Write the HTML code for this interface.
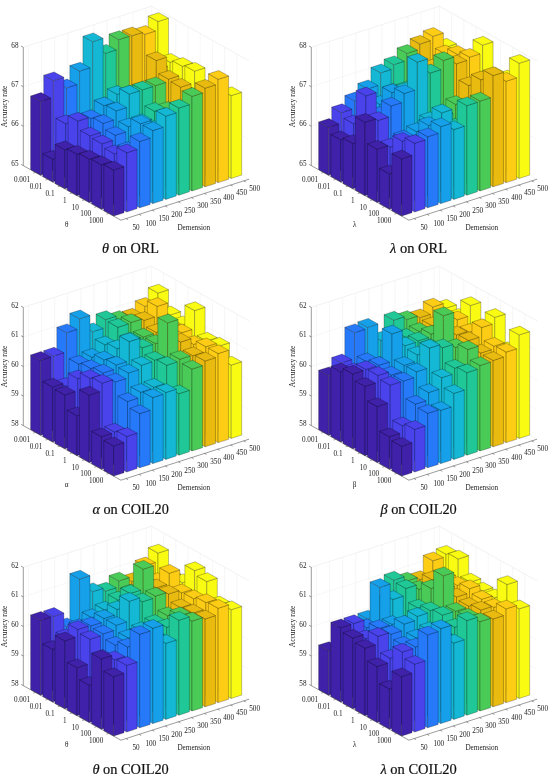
<!DOCTYPE html>
<html><head><meta charset="utf-8"><title>Figure</title>
<style>
html,body{margin:0;padding:0;background:#fff}
svg{display:block}
.g{fill:none;stroke:#eee;stroke-width:.5}
.a{fill:none;stroke:#4a4a4a;stroke-width:.55}
.b polygon{stroke:#000;stroke-opacity:.55;stroke-width:.45;stroke-linejoin:round}
.t text{font-family:"Liberation Serif",serif;font-size:7.2px;fill:#222}
.c{font-family:"Liberation Serif",serif;font-size:14.6px;fill:#111;stroke:#111;stroke-width:.2}
</style></head><body>
<svg width="550" height="781" viewBox="0 0 550 781">
<rect width="550" height="781" fill="#fff"/>
<polygon points="23.3,165.6 120.9,220.2 249,179.2 249,60.9 151.4,6.2 23.3,47.3" fill="#fff"/>
<path d="M23.3 165.6L151.4 124.5L249 179.2M23.3 126.2L151.4 85.1L249 139.7M23.3 86.7L151.4 45.7L249 100.3M23.3 47.3L151.4 6.2L249 60.9M28.5 45.6L28.5 163.9L126.1 218.6M41.6 41.4L41.6 159.7L139.2 214.4M54.7 37.2L54.7 155.5L152.3 210.2M67.7 33.1L67.7 151.4L165.3 206M80.8 28.9L80.8 147.2L178.4 201.8M93.9 24.7L93.9 143L191.5 197.6M106.9 20.5L106.9 138.8L204.5 193.4M120 16.3L120 134.6L217.6 189.2M133.1 12.1L133.1 130.4L230.7 185M146.2 7.9L146.2 126.2L243.8 180.9M163.6 13.1L163.6 131.4L35.5 172.4M175.8 19.9L175.8 138.2L47.7 179.3M188 26.7L188 145L59.9 186.1M200.2 33.6L200.2 151.9L72.1 192.9M212.4 40.4L212.4 158.7L84.3 199.8M224.6 47.2L224.6 165.5L96.5 206.6M236.8 54L236.8 172.3L108.7 213.4" class="g"/>
<path d="M23.3 47.3L151.4 6.2L249 60.9M151.4 6.2L151.4 124.5" class="g"/>
<g class="b"><g fill="#f9fb12"><polygon points="148.2,16.1 158,21.5 158,137.5 148.2,132"/><polygon points="158,21.5 168.5,18.2 168.5,134.1 158,137.5"/><polygon points="148.2,16.1 158.7,12.7 168.5,18.2 158,21.5"/></g><g fill="#fdcc14"><polygon points="135.2,28.9 144.9,34.4 144.9,141.6 135.2,136.2"/><polygon points="144.9,34.4 155.4,31 155.4,138.3 144.9,141.6"/><polygon points="135.2,28.9 145.6,25.6 155.4,31 144.9,34.4"/></g><g fill="#e9bb10"><polygon points="122.1,30.3 131.9,35.8 131.9,145.8 122.1,140.4"/><polygon points="131.9,35.8 142.3,32.5 142.3,142.5 131.9,145.8"/><polygon points="122.1,30.3 132.6,27 142.3,32.5 131.9,35.8"/></g><g fill="#4acb58"><polygon points="109,34.1 118.8,39.6 118.8,150 109,144.6"/><polygon points="118.8,39.6 129.3,36.3 129.3,146.7 118.8,150"/><polygon points="109,34.1 119.5,30.8 129.3,36.3 118.8,39.6"/></g><g fill="#20c797"><polygon points="96,47.8 105.7,53.3 105.7,154.2 96,148.7"/><polygon points="105.7,53.3 116.2,49.9 116.2,150.9 105.7,154.2"/><polygon points="96,47.8 106.4,44.4 116.2,49.9 105.7,53.3"/></g><g fill="#14b7d4"><polygon points="82.9,36.2 92.7,41.7 92.7,158.4 82.9,152.9"/><polygon points="92.7,41.7 103.1,38.3 103.1,155.1 92.7,158.4"/><polygon points="82.9,36.2 93.4,32.9 103.1,38.3 92.7,41.7"/></g><g fill="#16a0ea"><polygon points="69.8,65.6 79.6,71.1 79.6,162.6 69.8,157.1"/><polygon points="79.6,71.1 90,67.8 90,159.2 79.6,162.6"/><polygon points="69.8,65.6 80.3,62.3 90,67.8 79.6,71.1"/></g><g fill="#2679f9"><polygon points="56.8,82.5 66.5,87.9 66.5,166.8 56.8,161.3"/><polygon points="66.5,87.9 77,84.6 77,163.4 66.5,166.8"/><polygon points="56.8,82.5 67.2,79.1 77,84.6 66.5,87.9"/></g><g fill="#4a42ea"><polygon points="43.7,75.2 53.4,80.7 53.4,171 43.7,165.5"/><polygon points="53.4,80.7 63.9,77.3 63.9,167.6 53.4,171"/><polygon points="43.7,75.2 54.1,71.9 63.9,77.3 53.4,80.7"/></g><g fill="#3f22a9"><polygon points="30.6,96 40.4,101.4 40.4,175.2 30.6,169.7"/><polygon points="40.4,101.4 50.8,98.1 50.8,171.8 40.4,175.2"/><polygon points="30.6,96 41.1,92.6 50.8,98.1 40.4,101.4"/></g><g fill="#f9fb12"><polygon points="160.4,56.8 170.2,62.3 170.2,144.3 160.4,138.8"/><polygon points="170.2,62.3 180.7,58.9 180.7,140.9 170.2,144.3"/><polygon points="160.4,56.8 170.9,53.4 180.7,58.9 170.2,62.3"/></g><g fill="#fdcc14"><polygon points="147.4,64.1 157.1,69.6 157.1,148.5 147.4,143"/><polygon points="157.1,69.6 167.6,66.3 167.6,145.1 157.1,148.5"/><polygon points="147.4,64.1 157.8,60.8 167.6,66.3 157.1,69.6"/></g><g fill="#e9bb10"><polygon points="134.3,84.1 144.1,89.6 144.1,152.7 134.3,147.2"/><polygon points="144.1,89.6 154.5,86.2 154.5,149.3 144.1,152.7"/><polygon points="134.3,84.1 144.8,80.8 154.5,86.2 144.1,89.6"/></g><g fill="#4acb58"><polygon points="121.2,88.3 131,93.8 131,156.9 121.2,151.4"/><polygon points="131,93.8 141.5,90.4 141.5,153.5 131,156.9"/><polygon points="121.2,88.3 131.7,84.9 141.5,90.4 131,93.8"/></g><g fill="#20c797"><polygon points="108.2,92.5 117.9,97.9 117.9,161 108.2,155.6"/><polygon points="117.9,97.9 128.4,94.6 128.4,157.7 117.9,161"/><polygon points="108.2,92.5 118.6,89.1 128.4,94.6 117.9,97.9"/></g><g fill="#14b7d4"><polygon points="95.1,100.6 104.9,106.1 104.9,165.2 95.1,159.8"/><polygon points="104.9,106.1 115.3,102.7 115.3,161.9 104.9,165.2"/><polygon points="95.1,100.6 105.6,97.3 115.3,102.7 104.9,106.1"/></g><g fill="#16a0ea"><polygon points="82,116.6 91.8,122.1 91.8,169.4 82,164"/><polygon points="91.8,122.1 102.2,118.7 102.2,166.1 91.8,169.4"/><polygon points="82,116.6 92.5,113.3 102.2,118.7 91.8,122.1"/></g><g fill="#2679f9"><polygon points="69,120.8 78.7,126.3 78.7,173.6 69,168.1"/><polygon points="78.7,126.3 89.2,122.9 89.2,170.3 78.7,173.6"/><polygon points="69,120.8 79.4,117.5 89.2,122.9 78.7,126.3"/></g><g fill="#4a42ea"><polygon points="55.9,118.3 65.7,123.8 65.7,177.8 55.9,172.3"/><polygon points="65.7,123.8 76.1,120.4 76.1,174.4 65.7,177.8"/><polygon points="55.9,118.3 66.3,115 76.1,120.4 65.7,123.8"/></g><g fill="#3f22a9"><polygon points="42.8,153.7 52.6,159.1 52.6,182 42.8,176.5"/><polygon points="52.6,159.1 63,155.8 63,178.6 52.6,182"/><polygon points="42.8,153.7 53.3,150.3 63,155.8 52.6,159.1"/></g><g fill="#f9fb12"><polygon points="172.6,60.9 182.4,66.3 182.4,151.1 172.6,145.6"/><polygon points="182.4,66.3 192.9,63 192.9,147.8 182.4,151.1"/><polygon points="172.6,60.9 183.1,57.5 192.9,63 182.4,66.3"/></g><g fill="#fdcc14"><polygon points="159.6,78.9 169.3,84.3 169.3,155.3 159.6,149.8"/><polygon points="169.3,84.3 179.8,81 179.8,151.9 169.3,155.3"/><polygon points="159.6,78.9 170,75.5 179.8,81 169.3,84.3"/></g><g fill="#e9bb10"><polygon points="146.5,55.1 156.3,60.5 156.3,159.5 146.5,154"/><polygon points="156.3,60.5 166.7,57.2 166.7,156.1 156.3,159.5"/><polygon points="146.5,55.1 157,51.7 166.7,57.2 156.3,60.5"/></g><g fill="#4acb58"><polygon points="133.4,87.2 143.2,92.7 143.2,163.7 133.4,158.2"/><polygon points="143.2,92.7 153.7,89.4 153.7,160.3 143.2,163.7"/><polygon points="133.4,87.2 143.9,83.9 153.7,89.4 143.2,92.7"/></g><g fill="#20c797"><polygon points="120.4,91.4 130.1,96.9 130.1,167.9 120.4,162.4"/><polygon points="130.1,96.9 140.6,93.5 140.6,164.5 130.1,167.9"/><polygon points="120.4,91.4 130.8,88.1 140.6,93.5 130.1,96.9"/></g><g fill="#14b7d4"><polygon points="107.3,88.9 117.1,94.4 117.1,172.1 107.3,166.6"/><polygon points="117.1,94.4 127.5,91 127.5,168.7 117.1,172.1"/><polygon points="107.3,88.9 117.8,85.6 127.5,91 117.1,94.4"/></g><g fill="#16a0ea"><polygon points="94.2,100.2 104,105.7 104,176.3 94.2,170.8"/><polygon points="104,105.7 114.4,102.3 114.4,172.9 104,176.3"/><polygon points="94.2,100.2 104.7,96.9 114.4,102.3 104,105.7"/></g><g fill="#2679f9"><polygon points="81.2,113.1 90.9,118.5 90.9,180.4 81.2,175"/><polygon points="90.9,118.5 101.4,115.2 101.4,177.1 90.9,180.4"/><polygon points="81.2,113.1 91.6,109.7 101.4,115.2 90.9,118.5"/></g><g fill="#4a42ea"><polygon points="68.1,115.7 77.8,121.1 77.8,184.6 68.1,179.2"/><polygon points="77.8,121.1 88.3,117.8 88.3,181.3 77.8,184.6"/><polygon points="68.1,115.7 78.5,112.3 88.3,117.8 77.8,121.1"/></g><g fill="#3f22a9"><polygon points="55,144.3 64.8,149.8 64.8,188.8 55,183.4"/><polygon points="64.8,149.8 75.2,146.4 75.2,185.5 64.8,188.8"/><polygon points="55,144.3 65.5,141 75.2,146.4 64.8,149.8"/></g><g fill="#f9fb12"><polygon points="184.8,65.7 194.6,71.2 194.6,157.9 184.8,152.5"/><polygon points="194.6,71.2 205.1,67.8 205.1,154.6 194.6,157.9"/><polygon points="184.8,65.7 195.3,62.4 205.1,67.8 194.6,71.2"/></g><g fill="#fdcc14"><polygon points="171.8,85.7 181.5,91.2 181.5,162.1 171.8,156.7"/><polygon points="181.5,91.2 192,87.8 192,158.8 181.5,162.1"/><polygon points="171.8,85.7 182.2,82.3 192,87.8 181.5,91.2"/></g><g fill="#e9bb10"><polygon points="158.7,73.7 168.5,79.2 168.5,166.3 158.7,160.9"/><polygon points="168.5,79.2 178.9,75.8 178.9,163 168.5,166.3"/><polygon points="158.7,73.7 169.2,70.4 178.9,75.8 168.5,79.2"/></g><g fill="#4acb58"><polygon points="145.6,80.3 155.4,85.7 155.4,170.5 145.6,165"/><polygon points="155.4,85.7 165.9,82.4 165.9,167.2 155.4,170.5"/><polygon points="145.6,80.3 156.1,76.9 165.9,82.4 155.4,85.7"/></g><g fill="#20c797"><polygon points="132.6,84.5 142.3,89.9 142.3,174.7 132.6,169.2"/><polygon points="142.3,89.9 152.8,86.6 152.8,171.3 142.3,174.7"/><polygon points="132.6,84.5 143,81.1 152.8,86.6 142.3,89.9"/></g><g fill="#14b7d4"><polygon points="119.5,88.6 129.3,94.1 129.3,178.9 119.5,173.4"/><polygon points="129.3,94.1 139.7,90.8 139.7,175.5 129.3,178.9"/><polygon points="119.5,88.6 130,85.3 139.7,90.8 129.3,94.1"/></g><g fill="#16a0ea"><polygon points="106.4,105.5 116.2,110.9 116.2,183.1 106.4,177.6"/><polygon points="116.2,110.9 126.6,107.6 126.6,179.7 116.2,183.1"/><polygon points="106.4,105.5 116.9,102.1 126.6,107.6 116.2,110.9"/></g><g fill="#2679f9"><polygon points="93.4,117.9 103.1,123.4 103.1,187.3 93.4,181.8"/><polygon points="103.1,123.4 113.6,120 113.6,183.9 103.1,187.3"/><polygon points="93.4,117.9 103.8,114.6 113.6,120 103.1,123.4"/></g><g fill="#4a42ea"><polygon points="80.3,130.4 90.1,135.9 90.1,191.5 80.3,186"/><polygon points="90.1,135.9 100.5,132.5 100.5,188.1 90.1,191.5"/><polygon points="80.3,130.4 90.7,127 100.5,132.5 90.1,135.9"/></g><g fill="#3f22a9"><polygon points="67.2,148.8 77,154.2 77,195.7 67.2,190.2"/><polygon points="77,154.2 87.4,150.9 87.4,192.3 77,195.7"/><polygon points="67.2,148.8 77.7,145.4 87.4,150.9 77,154.2"/></g><g fill="#f9fb12"><polygon points="197,84.4 206.8,89.8 206.8,164.8 197,159.3"/><polygon points="206.8,89.8 217.3,86.5 217.3,161.4 206.8,164.8"/><polygon points="197,84.4 207.5,81 217.3,86.5 206.8,89.8"/></g><g fill="#fdcc14"><polygon points="184,92.5 193.7,98 193.7,169 184,163.5"/><polygon points="193.7,98 204.2,94.6 204.2,165.6 193.7,169"/><polygon points="184,92.5 194.4,89.2 204.2,94.6 193.7,98"/></g><g fill="#e9bb10"><polygon points="170.9,81.7 180.7,87.2 180.7,173.2 170.9,167.7"/><polygon points="180.7,87.2 191.1,83.8 191.1,169.8 180.7,173.2"/><polygon points="170.9,81.7 181.4,78.4 191.1,83.8 180.7,87.2"/></g><g fill="#4acb58"><polygon points="157.8,104.8 167.6,110.3 167.6,177.3 157.8,171.9"/><polygon points="167.6,110.3 178.1,107 178.1,174 167.6,177.3"/><polygon points="157.8,104.8 168.3,101.5 178.1,107 167.6,110.3"/></g><g fill="#20c797"><polygon points="144.8,105.9 154.5,111.3 154.5,181.5 144.8,176.1"/><polygon points="154.5,111.3 165,108 165,178.2 154.5,181.5"/><polygon points="144.8,105.9 155.2,102.5 165,108 154.5,111.3"/></g><g fill="#14b7d4"><polygon points="131.7,117.2 141.5,122.6 141.5,185.7 131.7,180.3"/><polygon points="141.5,122.6 151.9,119.3 151.9,182.4 141.5,185.7"/><polygon points="131.7,117.2 142.2,113.8 151.9,119.3 141.5,122.6"/></g><g fill="#16a0ea"><polygon points="118.6,121.4 128.4,126.8 128.4,189.9 118.6,184.4"/><polygon points="128.4,126.8 138.8,123.5 138.8,186.6 128.4,189.9"/><polygon points="118.6,121.4 129.1,118 138.8,123.5 128.4,126.8"/></g><g fill="#2679f9"><polygon points="105.6,129.9 115.3,135.3 115.3,194.1 105.6,188.6"/><polygon points="115.3,135.3 125.8,132 125.8,190.8 115.3,194.1"/><polygon points="105.6,129.9 116,126.5 125.8,132 115.3,135.3"/></g><g fill="#4a42ea"><polygon points="92.5,138.4 102.2,143.9 102.2,198.3 92.5,192.8"/><polygon points="102.2,143.9 112.7,140.5 112.7,194.9 102.2,198.3"/><polygon points="92.5,138.4 102.9,135.1 112.7,140.5 102.2,143.9"/></g><g fill="#3f22a9"><polygon points="79.4,153.6 89.2,159.1 89.2,202.5 79.4,197"/><polygon points="89.2,159.1 99.6,155.8 99.6,199.1 89.2,202.5"/><polygon points="79.4,153.6 89.9,150.3 99.6,155.8 89.2,159.1"/></g><g fill="#f9fb12"><polygon points="209.2,87.3 219,92.7 219,171.6 209.2,166.1"/><polygon points="219,92.7 229.5,89.4 229.5,168.2 219,171.6"/><polygon points="209.2,87.3 219.7,83.9 229.5,89.4 219,92.7"/></g><g fill="#fdcc14"><polygon points="196.2,87.5 205.9,93 205.9,175.8 196.2,170.3"/><polygon points="205.9,93 216.4,89.6 216.4,172.4 205.9,175.8"/><polygon points="196.2,87.5 206.6,84.2 216.4,89.6 205.9,93"/></g><g fill="#e9bb10"><polygon points="183.1,95.7 192.9,101.1 192.9,180 183.1,174.5"/><polygon points="192.9,101.1 203.3,97.8 203.3,176.6 192.9,180"/><polygon points="183.1,95.7 193.6,92.3 203.3,97.8 192.9,101.1"/></g><g fill="#4acb58"><polygon points="170,103.8 179.8,109.2 179.8,184.2 170,178.7"/><polygon points="179.8,109.2 190.3,105.9 190.3,180.8 179.8,184.2"/><polygon points="170,103.8 180.5,100.4 190.3,105.9 179.8,109.2"/></g><g fill="#20c797"><polygon points="157,115.9 166.7,121.3 166.7,188.4 157,182.9"/><polygon points="166.7,121.3 177.2,118 177.2,185 166.7,188.4"/><polygon points="157,115.9 167.4,112.5 177.2,118 166.7,121.3"/></g><g fill="#14b7d4"><polygon points="143.9,124 153.7,129.5 153.7,192.6 143.9,187.1"/><polygon points="153.7,129.5 164.1,126.1 164.1,189.2 153.7,192.6"/><polygon points="143.9,124 154.4,120.6 164.1,126.1 153.7,129.5"/></g><g fill="#16a0ea"><polygon points="130.8,118.3 140.6,123.8 140.6,196.7 130.8,191.3"/><polygon points="140.6,123.8 151,120.4 151,193.4 140.6,196.7"/><polygon points="130.8,118.3 141.3,115 151,120.4 140.6,123.8"/></g><g fill="#2679f9"><polygon points="117.8,145 127.5,150.5 127.5,200.9 117.8,195.5"/><polygon points="127.5,150.5 138,147.1 138,197.6 127.5,200.9"/><polygon points="117.8,145 128.2,141.6 138,147.1 127.5,150.5"/></g><g fill="#4a42ea"><polygon points="104.7,148.4 114.4,153.9 114.4,205.1 104.7,199.7"/><polygon points="114.4,153.9 124.9,150.5 124.9,201.8 114.4,205.1"/><polygon points="104.7,148.4 115.1,145 124.9,150.5 114.4,153.9"/></g><g fill="#3f22a9"><polygon points="91.6,159.3 101.4,164.8 101.4,209.3 91.6,203.8"/><polygon points="101.4,164.8 111.8,161.4 111.8,206 101.4,209.3"/><polygon points="91.6,159.3 102.1,155.9 111.8,161.4 101.4,164.8"/></g><g fill="#f9fb12"><polygon points="221.4,90.2 231.2,95.6 231.2,178.4 221.4,173"/><polygon points="231.2,95.6 241.7,92.3 241.7,175.1 231.2,178.4"/><polygon points="221.4,90.2 231.9,86.8 241.7,92.3 231.2,95.6"/></g><g fill="#fdcc14"><polygon points="208.4,73.8 218.1,79.3 218.1,182.6 208.4,177.2"/><polygon points="218.1,79.3 228.6,76 228.6,179.3 218.1,182.6"/><polygon points="208.4,73.8 218.8,70.5 228.6,76 218.1,79.3"/></g><g fill="#e9bb10"><polygon points="195.3,82.8 205.1,88.2 205.1,186.8 195.3,181.3"/><polygon points="205.1,88.2 215.5,84.9 215.5,183.5 205.1,186.8"/><polygon points="195.3,82.8 205.8,79.4 215.5,84.9 205.1,88.2"/></g><g fill="#4acb58"><polygon points="182.2,90.9 192,96.4 192,191 182.2,185.5"/><polygon points="192,96.4 202.5,93 202.5,187.6 192,191"/><polygon points="182.2,90.9 192.7,87.5 202.5,93 192,96.4"/></g><g fill="#20c797"><polygon points="169.2,102.6 178.9,108 178.9,195.2 169.2,189.7"/><polygon points="178.9,108 189.4,104.7 189.4,191.8 178.9,195.2"/><polygon points="169.2,102.6 179.6,99.2 189.4,104.7 178.9,108"/></g><g fill="#14b7d4"><polygon points="156.1,110.7 165.9,116.2 165.9,199.4 156.1,193.9"/><polygon points="165.9,116.2 176.3,112.8 176.3,196 165.9,199.4"/><polygon points="156.1,110.7 166.6,107.4 176.3,112.8 165.9,116.2"/></g><g fill="#16a0ea"><polygon points="143,125.2 152.8,130.6 152.8,203.6 143,198.1"/><polygon points="152.8,130.6 163.2,127.3 163.2,200.2 152.8,203.6"/><polygon points="143,125.2 153.5,121.8 163.2,127.3 152.8,130.6"/></g><g fill="#2679f9"><polygon points="130,136 139.7,141.5 139.7,207.8 130,202.3"/><polygon points="139.7,141.5 150.2,138.2 150.2,204.4 139.7,207.8"/><polygon points="130,136 140.4,132.7 150.2,138.2 139.7,141.5"/></g><g fill="#4a42ea"><polygon points="116.9,147.3 126.7,152.8 126.7,212 116.9,206.5"/><polygon points="126.7,152.8 137.1,149.4 137.1,208.6 126.7,212"/><polygon points="116.9,147.3 127.3,144 137.1,149.4 126.7,152.8"/></g><g fill="#3f22a9"><polygon points="103.8,164.5 113.6,170 113.6,216.1 103.8,210.7"/><polygon points="113.6,170 124,166.7 124,212.8 113.6,216.1"/><polygon points="103.8,164.5 114.3,161.2 124,166.7 113.6,170"/></g></g>
<path d="M23.3 47.3L23.3 165.6L120.9 220.2L249 179.2M23.3 165.6l-2.2 -1.2M23.3 126.2l-2.2 -1.2M23.3 86.7l-2.2 -1.2M23.3 47.3l-2.2 -1.2M35.5 172.4l-2.2 0.7M47.7 179.3l-2.2 0.7M59.9 186.1l-2.2 0.7M72.1 192.9l-2.2 0.7M84.3 199.8l-2.2 0.7M96.5 206.6l-2.2 0.7M108.7 213.4l-2.2 0.7M126.1 218.6l2 1.1M139.2 214.4l2 1.1M152.3 210.2l2 1.1M165.3 206l2 1.1M178.4 201.8l2 1.1M191.5 197.6l2 1.1M204.5 193.4l2 1.1M217.6 189.2l2 1.1M230.7 185l2 1.1M243.8 180.9l2 1.1" class="a"/>
<g class="t"><text transform="translate(18.5 165.8) scale(1 1.15)" text-anchor="end">65</text><text transform="translate(18.5 126.4) scale(1 1.15)" text-anchor="end">66</text><text transform="translate(18.5 86.9) scale(1 1.15)" text-anchor="end">67</text><text transform="translate(18.5 47.5) scale(1 1.15)" text-anchor="end">68</text><text transform="translate(30.1 182.2) scale(1 1.15)" text-anchor="end">0.001</text><text transform="translate(42.3 189.1) scale(1 1.15)" text-anchor="end">0.01</text><text transform="translate(54.5 195.9) scale(1 1.15)" text-anchor="end">0.1</text><text transform="translate(66.7 202.7) scale(1 1.15)" text-anchor="end">1</text><text transform="translate(78.9 209.6) scale(1 1.15)" text-anchor="end">10</text><text transform="translate(91.1 216.4) scale(1 1.15)" text-anchor="end">100</text><text transform="translate(103.3 223.2) scale(1 1.15)" text-anchor="end">1000</text><text transform="translate(132.4 230) scale(1 1.15)">50</text><text transform="translate(145.4 225.6) scale(1 1.15)">100</text><text transform="translate(158.4 221.3) scale(1 1.15)">150</text><text transform="translate(171.3 216.9) scale(1 1.15)">200</text><text transform="translate(184.3 212.6) scale(1 1.15)">250</text><text transform="translate(197.3 208.3) scale(1 1.15)">300</text><text transform="translate(210.2 203.9) scale(1 1.15)">350</text><text transform="translate(223.2 199.6) scale(1 1.15)">400</text><text transform="translate(236.2 195.2) scale(1 1.15)">450</text><text transform="translate(249.2 190.9) scale(1 1.15)">500</text><text transform="translate(66.7 226.5) scale(1 1.15)" text-anchor="middle">θ</text><text transform="translate(193.8 230) scale(1 1.15)" text-anchor="middle">Demension</text><text transform="translate(7.3 106.4) rotate(-90) scale(1.035 1.15)" text-anchor="middle">Accuracy rate</text></g>
<text class="c" x="102.1" y="253.3" textLength="57" lengthAdjust="spacingAndGlyphs"><tspan font-style="italic">θ</tspan> on ORL</text>
<polygon points="311.3,165.6 408.9,220.2 537,179.2 537,60.9 439.4,6.2 311.3,47.3" fill="#fff"/>
<path d="M311.3 165.6L439.4 124.5L537 179.2M311.3 126.2L439.4 85.1L537 139.7M311.3 86.7L439.4 45.7L537 100.3M311.3 47.3L439.4 6.2L537 60.9M316.5 45.6L316.5 163.9L414.1 218.6M329.6 41.4L329.6 159.7L427.2 214.4M342.7 37.2L342.7 155.5L440.3 210.2M355.7 33.1L355.7 151.4L453.3 206M368.8 28.9L368.8 147.2L466.4 201.8M381.9 24.7L381.9 143L479.5 197.6M394.9 20.5L394.9 138.8L492.5 193.4M408 16.3L408 134.6L505.6 189.2M421.1 12.1L421.1 130.4L518.7 185M434.2 7.9L434.2 126.2L531.8 180.9M451.6 13.1L451.6 131.4L323.5 172.4M463.8 19.9L463.8 138.2L335.7 179.3M476 26.7L476 145L347.9 186.1M488.2 33.6L488.2 151.9L360.1 192.9M500.4 40.4L500.4 158.7L372.3 199.8M512.6 47.2L512.6 165.5L384.5 206.6M524.8 54L524.8 172.3L396.7 213.4" class="g"/>
<path d="M311.3 47.3L439.4 6.2L537 60.9M439.4 6.2L439.4 124.5" class="g"/>
<g class="b"><g fill="#f9fb12"><polygon points="436.2,41.7 446,47.1 446,137.5 436.2,132"/><polygon points="446,47.1 456.5,43.8 456.5,134.1 446,137.5"/><polygon points="436.2,41.7 446.7,38.3 456.5,43.8 446,47.1"/></g><g fill="#fdcc14"><polygon points="423.2,30.9 432.9,36.4 432.9,141.6 423.2,136.2"/><polygon points="432.9,36.4 443.4,33 443.4,138.3 432.9,141.6"/><polygon points="423.2,30.9 433.6,27.5 443.4,33 432.9,36.4"/></g><g fill="#e9bb10"><polygon points="410.1,38.6 419.9,44.1 419.9,145.8 410.1,140.4"/><polygon points="419.9,44.1 430.3,40.7 430.3,142.5 419.9,145.8"/><polygon points="410.1,38.6 420.6,35.3 430.3,40.7 419.9,44.1"/></g><g fill="#4acb58"><polygon points="397,47.9 406.8,53.4 406.8,150 397,144.6"/><polygon points="406.8,53.4 417.3,50.1 417.3,146.7 406.8,150"/><polygon points="397,47.9 407.5,44.6 417.3,50.1 406.8,53.4"/></g><g fill="#20c797"><polygon points="384,59.2 393.7,64.7 393.7,154.2 384,148.7"/><polygon points="393.7,64.7 404.2,61.3 404.2,150.9 393.7,154.2"/><polygon points="384,59.2 394.4,55.9 404.2,61.3 393.7,64.7"/></g><g fill="#14b7d4"><polygon points="370.9,67.4 380.7,72.8 380.7,158.4 370.9,152.9"/><polygon points="380.7,72.8 391.1,69.5 391.1,155.1 380.7,158.4"/><polygon points="370.9,67.4 381.4,64 391.1,69.5 380.7,72.8"/></g><g fill="#16a0ea"><polygon points="357.8,83.4 367.6,88.9 367.6,162.6 357.8,157.1"/><polygon points="367.6,88.9 378,85.5 378,159.2 367.6,162.6"/><polygon points="357.8,83.4 368.3,80 378,85.5 367.6,88.9"/></g><g fill="#2679f9"><polygon points="344.8,95.5 354.5,100.9 354.5,166.8 344.8,161.3"/><polygon points="354.5,100.9 365,97.6 365,163.4 354.5,166.8"/><polygon points="344.8,95.5 355.2,92.1 365,97.6 354.5,100.9"/></g><g fill="#4a42ea"><polygon points="331.7,107.1 341.4,112.6 341.4,171 331.7,165.5"/><polygon points="341.4,112.6 351.9,109.3 351.9,167.6 341.4,171"/><polygon points="331.7,107.1 342.1,103.8 351.9,109.3 341.4,112.6"/></g><g fill="#3f22a9"><polygon points="318.6,122 328.4,127.4 328.4,175.2 318.6,169.7"/><polygon points="328.4,127.4 338.8,124.1 338.8,171.8 328.4,175.2"/><polygon points="318.6,122 329.1,118.6 338.8,124.1 328.4,127.4"/></g><g fill="#f9fb12"><polygon points="448.4,60 458.2,65.4 458.2,144.3 448.4,138.8"/><polygon points="458.2,65.4 468.7,62.1 468.7,140.9 458.2,144.3"/><polygon points="448.4,60 458.9,56.6 468.7,62.1 458.2,65.4"/></g><g fill="#fdcc14"><polygon points="435.4,48.4 445.1,53.8 445.1,148.5 435.4,143"/><polygon points="445.1,53.8 455.6,50.5 455.6,145.1 445.1,148.5"/><polygon points="435.4,48.4 445.8,45 455.6,50.5 445.1,53.8"/></g><g fill="#e9bb10"><polygon points="422.3,62.4 432.1,67.9 432.1,152.7 422.3,147.2"/><polygon points="432.1,67.9 442.5,64.5 442.5,149.3 432.1,152.7"/><polygon points="422.3,62.4 432.8,59.1 442.5,64.5 432.1,67.9"/></g><g fill="#4acb58"><polygon points="409.2,70.5 419,76 419,156.9 409.2,151.4"/><polygon points="419,76 429.5,72.7 429.5,153.5 419,156.9"/><polygon points="409.2,70.5 419.7,67.2 429.5,72.7 419,76"/></g><g fill="#20c797"><polygon points="396.2,84.6 405.9,90.1 405.9,161 396.2,155.6"/><polygon points="405.9,90.1 416.4,86.7 416.4,157.7 405.9,161"/><polygon points="396.2,84.6 406.6,81.2 416.4,86.7 405.9,90.1"/></g><g fill="#14b7d4"><polygon points="383.1,86.8 392.9,92.3 392.9,165.2 383.1,159.8"/><polygon points="392.9,92.3 403.3,88.9 403.3,161.9 392.9,165.2"/><polygon points="383.1,86.8 393.6,83.5 403.3,88.9 392.9,92.3"/></g><g fill="#16a0ea"><polygon points="370,98.9 379.8,104.4 379.8,169.4 370,164"/><polygon points="379.8,104.4 390.2,101 390.2,166.1 379.8,169.4"/><polygon points="370,98.9 380.5,95.5 390.2,101 379.8,104.4"/></g><g fill="#2679f9"><polygon points="357,107 366.7,112.5 366.7,173.6 357,168.1"/><polygon points="366.7,112.5 377.2,109.1 377.2,170.3 366.7,173.6"/><polygon points="357,107 367.4,103.7 377.2,109.1 366.7,112.5"/></g><g fill="#4a42ea"><polygon points="343.9,118.3 353.6,123.8 353.6,177.8 343.9,172.3"/><polygon points="353.6,123.8 364.1,120.4 364.1,174.4 353.6,177.8"/><polygon points="343.9,118.3 354.3,115 364.1,120.4 353.6,123.8"/></g><g fill="#3f22a9"><polygon points="330.8,134.3 340.6,139.8 340.6,182 330.8,176.5"/><polygon points="340.6,139.8 351,136.4 351,178.6 340.6,182"/><polygon points="330.8,134.3 341.3,131 351,136.4 340.6,139.8"/></g><g fill="#f9fb12"><polygon points="460.6,53 470.4,58.4 470.4,151.1 460.6,145.6"/><polygon points="470.4,58.4 480.9,55.1 480.9,147.8 470.4,151.1"/><polygon points="460.6,53 471.1,49.6 480.9,55.1 470.4,58.4"/></g><g fill="#fdcc14"><polygon points="447.6,48.9 457.3,54.4 457.3,155.3 447.6,149.8"/><polygon points="457.3,54.4 467.8,51 467.8,151.9 457.3,155.3"/><polygon points="447.6,48.9 458,45.5 467.8,51 457.3,54.4"/></g><g fill="#e9bb10"><polygon points="434.5,65.3 444.3,70.8 444.3,159.5 434.5,154"/><polygon points="444.3,70.8 454.7,67.4 454.7,156.1 444.3,159.5"/><polygon points="434.5,65.3 445,62 454.7,67.4 444.3,70.8"/></g><g fill="#4acb58"><polygon points="421.4,73.4 431.2,78.9 431.2,163.7 421.4,158.2"/><polygon points="431.2,78.9 441.7,75.5 441.7,160.3 431.2,163.7"/><polygon points="421.4,73.4 431.9,70.1 441.7,75.5 431.2,78.9"/></g><g fill="#20c797"><polygon points="408.4,81.6 418.1,87 418.1,167.9 408.4,162.4"/><polygon points="418.1,87 428.6,83.7 428.6,164.5 418.1,167.9"/><polygon points="408.4,81.6 418.8,78.2 428.6,83.7 418.1,87"/></g><g fill="#14b7d4"><polygon points="395.3,85.8 405.1,91.2 405.1,172.1 395.3,166.6"/><polygon points="405.1,91.2 415.5,87.9 415.5,168.7 405.1,172.1"/><polygon points="395.3,85.8 405.8,82.4 415.5,87.9 405.1,91.2"/></g><g fill="#16a0ea"><polygon points="382.2,87.2 392,92.7 392,176.3 382.2,170.8"/><polygon points="392,92.7 402.4,89.3 402.4,172.9 392,176.3"/><polygon points="382.2,87.2 392.7,83.8 402.4,89.3 392,92.7"/></g><g fill="#2679f9"><polygon points="369.2,109.9 378.9,115.4 378.9,180.4 369.2,175"/><polygon points="378.9,115.4 389.4,112 389.4,177.1 378.9,180.4"/><polygon points="369.2,109.9 379.6,106.6 389.4,112 378.9,115.4"/></g><g fill="#4a42ea"><polygon points="356.1,90.4 365.9,95.9 365.9,184.6 356.1,179.2"/><polygon points="365.9,95.9 376.3,92.6 376.3,181.3 365.9,184.6"/><polygon points="356.1,90.4 366.5,87.1 376.3,92.6 365.9,95.9"/></g><g fill="#3f22a9"><polygon points="343,138 352.8,143.5 352.8,188.8 343,183.4"/><polygon points="352.8,143.5 363.2,140.1 363.2,185.5 352.8,188.8"/><polygon points="343,138 353.5,134.7 363.2,140.1 352.8,143.5"/></g><g fill="#f9fb12"><polygon points="472.9,39.7 482.6,45.2 482.6,157.9 472.9,152.5"/><polygon points="482.6,45.2 493.1,41.8 493.1,154.6 482.6,157.9"/><polygon points="472.9,39.7 483.3,36.3 493.1,41.8 482.6,45.2"/></g><g fill="#fdcc14"><polygon points="459.8,51.8 469.5,57.2 469.5,162.1 459.8,156.7"/><polygon points="469.5,57.2 480,53.9 480,158.8 469.5,162.1"/><polygon points="459.8,51.8 470.2,48.4 480,53.9 469.5,57.2"/></g><g fill="#e9bb10"><polygon points="446.7,58.3 456.5,63.8 456.5,166.3 446.7,160.9"/><polygon points="456.5,63.8 466.9,60.4 466.9,163 456.5,166.3"/><polygon points="446.7,58.3 457.2,55 466.9,60.4 456.5,63.8"/></g><g fill="#4acb58"><polygon points="433.6,55 443.4,60.5 443.4,170.5 433.6,165"/><polygon points="443.4,60.5 453.9,57.1 453.9,167.2 443.4,170.5"/><polygon points="433.6,55 444.1,51.7 453.9,57.1 443.4,60.5"/></g><g fill="#20c797"><polygon points="420.6,67.5 430.3,73 430.3,174.7 420.6,169.2"/><polygon points="430.3,73 440.8,69.6 440.8,171.3 430.3,174.7"/><polygon points="420.6,67.5 431,64.1 440.8,69.6 430.3,73"/></g><g fill="#14b7d4"><polygon points="407.5,56.7 417.3,62.2 417.3,178.9 407.5,173.4"/><polygon points="417.3,62.2 427.7,58.8 427.7,175.5 417.3,178.9"/><polygon points="407.5,56.7 418,53.4 427.7,58.8 417.3,62.2"/></g><g fill="#16a0ea"><polygon points="394.4,88.1 404.2,93.6 404.2,183.1 394.4,177.6"/><polygon points="404.2,93.6 414.6,90.2 414.6,179.7 404.2,183.1"/><polygon points="394.4,88.1 404.9,84.8 414.6,90.2 404.2,93.6"/></g><g fill="#2679f9"><polygon points="381.4,100.6 391.1,106 391.1,187.3 381.4,181.8"/><polygon points="391.1,106 401.6,102.7 401.6,183.9 391.1,187.3"/><polygon points="381.4,100.6 391.8,97.2 401.6,102.7 391.1,106"/></g><g fill="#4a42ea"><polygon points="368.3,115 378.1,120.5 378.1,191.5 368.3,186"/><polygon points="378.1,120.5 388.5,117.1 388.5,188.1 378.1,191.5"/><polygon points="368.3,115 378.7,111.7 388.5,117.1 378.1,120.5"/></g><g fill="#3f22a9"><polygon points="355.2,116.8 365,122.3 365,195.7 355.2,190.2"/><polygon points="365,122.3 375.4,119 375.4,192.3 365,195.7"/><polygon points="355.2,116.8 365.7,113.5 375.4,119 365,122.3"/></g><g fill="#f9fb12"><polygon points="485.1,70.6 494.8,76 494.8,164.8 485.1,159.3"/><polygon points="494.8,76 505.3,72.7 505.3,161.4 494.8,164.8"/><polygon points="485.1,70.6 495.5,67.2 505.3,72.7 494.8,76"/></g><g fill="#fdcc14"><polygon points="472,74.8 481.7,80.2 481.7,169 472,163.5"/><polygon points="481.7,80.2 492.2,76.9 492.2,165.6 481.7,169"/><polygon points="472,74.8 482.4,71.4 492.2,76.9 481.7,80.2"/></g><g fill="#e9bb10"><polygon points="458.9,80.1 468.7,85.6 468.7,173.2 458.9,167.7"/><polygon points="468.7,85.6 479.1,82.3 479.1,169.8 468.7,173.2"/><polygon points="458.9,80.1 469.4,76.8 479.1,82.3 468.7,85.6"/></g><g fill="#4acb58"><polygon points="445.8,98.9 455.6,104.4 455.6,177.3 445.8,171.9"/><polygon points="455.6,104.4 466.1,101 466.1,174 455.6,177.3"/><polygon points="445.8,98.9 456.3,95.6 466.1,101 455.6,104.4"/></g><g fill="#20c797"><polygon points="432.8,111 442.5,116.5 442.5,181.5 432.8,176.1"/><polygon points="442.5,116.5 453,113.1 453,178.2 442.5,181.5"/><polygon points="432.8,111 443.2,107.7 453,113.1 442.5,116.5"/></g><g fill="#14b7d4"><polygon points="419.7,115.2 429.5,120.7 429.5,185.7 419.7,180.3"/><polygon points="429.5,120.7 439.9,117.3 439.9,182.4 429.5,185.7"/><polygon points="419.7,115.2 430.2,111.8 439.9,117.3 429.5,120.7"/></g><g fill="#16a0ea"><polygon points="406.6,126.1 416.4,131.6 416.4,189.9 406.6,184.4"/><polygon points="416.4,131.6 426.8,128.2 426.8,186.6 416.4,189.9"/><polygon points="406.6,126.1 417.1,122.7 426.8,128.2 416.4,131.6"/></g><g fill="#2679f9"><polygon points="393.6,133.4 403.3,138.9 403.3,194.1 393.6,188.6"/><polygon points="403.3,138.9 413.8,135.5 413.8,190.8 403.3,194.1"/><polygon points="393.6,133.4 404,130.1 413.8,135.5 403.3,138.9"/></g><g fill="#4a42ea"><polygon points="380.5,141.6 390.2,147 390.2,198.3 380.5,192.8"/><polygon points="390.2,147 400.7,143.7 400.7,194.9 390.2,198.3"/><polygon points="380.5,141.6 390.9,138.2 400.7,143.7 390.2,147"/></g><g fill="#3f22a9"><polygon points="367.4,143.8 377.2,149.2 377.2,202.5 367.4,197"/><polygon points="377.2,149.2 387.6,145.9 387.6,199.1 377.2,202.5"/><polygon points="367.4,143.8 377.9,140.4 387.6,145.9 377.2,149.2"/></g><g fill="#f9fb12"><polygon points="497.2,73.5 507,78.9 507,171.6 497.2,166.1"/><polygon points="507,78.9 517.5,75.6 517.5,168.2 507,171.6"/><polygon points="497.2,73.5 507.7,70.1 517.5,75.6 507,78.9"/></g><g fill="#fdcc14"><polygon points="484.2,77.7 493.9,83.1 493.9,175.8 484.2,170.3"/><polygon points="493.9,83.1 504.4,79.8 504.4,172.4 493.9,175.8"/><polygon points="484.2,77.7 494.6,74.3 504.4,79.8 493.9,83.1"/></g><g fill="#e9bb10"><polygon points="471.1,74.4 480.9,79.8 480.9,180 471.1,174.5"/><polygon points="480.9,79.8 491.3,76.5 491.3,176.6 480.9,180"/><polygon points="471.1,74.4 481.6,71 491.3,76.5 480.9,79.8"/></g><g fill="#4acb58"><polygon points="458,101.8 467.8,107.3 467.8,184.2 458,178.7"/><polygon points="467.8,107.3 478.3,103.9 478.3,180.8 467.8,184.2"/><polygon points="458,101.8 468.5,98.5 478.3,103.9 467.8,107.3"/></g><g fill="#20c797"><polygon points="445,121.8 454.7,127.2 454.7,188.4 445,182.9"/><polygon points="454.7,127.2 465.2,123.9 465.2,185 454.7,188.4"/><polygon points="445,121.8 455.4,118.4 465.2,123.9 454.7,127.2"/></g><g fill="#14b7d4"><polygon points="431.9,107.4 441.7,112.9 441.7,192.6 431.9,187.1"/><polygon points="441.7,112.9 452.1,109.5 452.1,189.2 441.7,192.6"/><polygon points="431.9,107.4 442.4,104.1 452.1,109.5 441.7,112.9"/></g><g fill="#16a0ea"><polygon points="418.8,119.9 428.6,125.4 428.6,196.7 418.8,191.3"/><polygon points="428.6,125.4 439,122 439,193.4 428.6,196.7"/><polygon points="418.8,119.9 429.3,116.6 439,122 428.6,125.4"/></g><g fill="#2679f9"><polygon points="405.8,138.3 415.5,143.8 415.5,200.9 405.8,195.5"/><polygon points="415.5,143.8 426,140.4 426,197.6 415.5,200.9"/><polygon points="405.8,138.3 416.2,134.9 426,140.4 415.5,143.8"/></g><g fill="#4a42ea"><polygon points="392.7,135.8 402.4,141.2 402.4,205.1 392.7,199.7"/><polygon points="402.4,141.2 412.9,137.9 412.9,201.8 402.4,205.1"/><polygon points="392.7,135.8 403.1,132.4 412.9,137.9 402.4,141.2"/></g><g fill="#3f22a9"><polygon points="379.6,168.4 389.4,173.8 389.4,209.3 379.6,203.8"/><polygon points="389.4,173.8 399.8,170.5 399.8,206 389.4,209.3"/><polygon points="379.6,168.4 390.1,165 399.8,170.5 389.4,173.8"/></g><g fill="#f9fb12"><polygon points="509.4,57.8 519.2,63.3 519.2,178.4 509.4,173"/><polygon points="519.2,63.3 529.7,59.9 529.7,175.1 519.2,178.4"/><polygon points="509.4,57.8 519.9,54.5 529.7,59.9 519.2,63.3"/></g><g fill="#fdcc14"><polygon points="496.4,75.8 506.1,81.3 506.1,182.6 496.4,177.2"/><polygon points="506.1,81.3 516.6,77.9 516.6,179.3 506.1,182.6"/><polygon points="496.4,75.8 506.8,72.5 516.6,77.9 506.1,81.3"/></g><g fill="#e9bb10"><polygon points="483.3,70.1 493.1,75.6 493.1,186.8 483.3,181.3"/><polygon points="493.1,75.6 503.5,72.3 503.5,183.5 493.1,186.8"/><polygon points="483.3,70.1 493.8,66.8 503.5,72.3 493.1,75.6"/></g><g fill="#4acb58"><polygon points="470.2,95.6 480,101.1 480,191 470.2,185.5"/><polygon points="480,101.1 490.5,97.7 490.5,187.6 480,191"/><polygon points="470.2,95.6 480.7,92.3 490.5,97.7 480,101.1"/></g><g fill="#20c797"><polygon points="457.2,100.2 466.9,105.7 466.9,195.2 457.2,189.7"/><polygon points="466.9,105.7 477.4,102.3 477.4,191.8 466.9,195.2"/><polygon points="457.2,100.2 467.6,96.9 477.4,102.3 466.9,105.7"/></g><g fill="#14b7d4"><polygon points="444.1,124.1 453.9,129.6 453.9,199.4 444.1,193.9"/><polygon points="453.9,129.6 464.3,126.2 464.3,196 453.9,199.4"/><polygon points="444.1,124.1 454.6,120.8 464.3,126.2 453.9,129.6"/></g><g fill="#16a0ea"><polygon points="431,121.2 440.8,126.7 440.8,203.6 431,198.1"/><polygon points="440.8,126.7 451.2,123.3 451.2,200.2 440.8,203.6"/><polygon points="431,121.2 441.5,117.9 451.2,123.3 440.8,126.7"/></g><g fill="#2679f9"><polygon points="418,131.3 427.7,136.8 427.7,207.8 418,202.3"/><polygon points="427.7,136.8 438.2,133.4 438.2,204.4 427.7,207.8"/><polygon points="418,131.3 428.4,128 438.2,133.4 427.7,136.8"/></g><g fill="#4a42ea"><polygon points="404.9,137.9 414.7,143.3 414.7,212 404.9,206.5"/><polygon points="414.7,143.3 425.1,140 425.1,208.6 414.7,212"/><polygon points="404.9,137.9 415.3,134.5 425.1,140 414.7,143.3"/></g><g fill="#3f22a9"><polygon points="391.8,153.5 401.6,159 401.6,216.1 391.8,210.7"/><polygon points="401.6,159 412,155.6 412,212.8 401.6,216.1"/><polygon points="391.8,153.5 402.3,150.1 412,155.6 401.6,159"/></g></g>
<path d="M311.3 47.3L311.3 165.6L408.9 220.2L537 179.2M311.3 165.6l-2.2 -1.2M311.3 126.2l-2.2 -1.2M311.3 86.7l-2.2 -1.2M311.3 47.3l-2.2 -1.2M323.5 172.4l-2.2 0.7M335.7 179.3l-2.2 0.7M347.9 186.1l-2.2 0.7M360.1 192.9l-2.2 0.7M372.3 199.8l-2.2 0.7M384.5 206.6l-2.2 0.7M396.7 213.4l-2.2 0.7M414.1 218.6l2 1.1M427.2 214.4l2 1.1M440.3 210.2l2 1.1M453.3 206l2 1.1M466.4 201.8l2 1.1M479.5 197.6l2 1.1M492.5 193.4l2 1.1M505.6 189.2l2 1.1M518.7 185l2 1.1M531.8 180.9l2 1.1" class="a"/>
<g class="t"><text transform="translate(306.5 165.8) scale(1 1.15)" text-anchor="end">65</text><text transform="translate(306.5 126.4) scale(1 1.15)" text-anchor="end">66</text><text transform="translate(306.5 86.9) scale(1 1.15)" text-anchor="end">67</text><text transform="translate(306.5 47.5) scale(1 1.15)" text-anchor="end">68</text><text transform="translate(318.1 182.2) scale(1 1.15)" text-anchor="end">0.001</text><text transform="translate(330.3 189.1) scale(1 1.15)" text-anchor="end">0.01</text><text transform="translate(342.5 195.9) scale(1 1.15)" text-anchor="end">0.1</text><text transform="translate(354.7 202.7) scale(1 1.15)" text-anchor="end">1</text><text transform="translate(366.9 209.6) scale(1 1.15)" text-anchor="end">10</text><text transform="translate(379.1 216.4) scale(1 1.15)" text-anchor="end">100</text><text transform="translate(391.3 223.2) scale(1 1.15)" text-anchor="end">1000</text><text transform="translate(420.4 230) scale(1 1.15)">50</text><text transform="translate(433.4 225.6) scale(1 1.15)">100</text><text transform="translate(446.4 221.3) scale(1 1.15)">150</text><text transform="translate(459.3 216.9) scale(1 1.15)">200</text><text transform="translate(472.3 212.6) scale(1 1.15)">250</text><text transform="translate(485.3 208.3) scale(1 1.15)">300</text><text transform="translate(498.2 203.9) scale(1 1.15)">350</text><text transform="translate(511.2 199.6) scale(1 1.15)">400</text><text transform="translate(524.2 195.2) scale(1 1.15)">450</text><text transform="translate(537.2 190.9) scale(1 1.15)">500</text><text transform="translate(354.7 226.5) scale(1 1.15)" text-anchor="middle">λ</text><text transform="translate(481.8 230) scale(1 1.15)" text-anchor="middle">Demension</text><text transform="translate(295.3 106.4) rotate(-90) scale(1.035 1.15)" text-anchor="middle">Accuracy rate</text></g>
<text class="c" x="390.1" y="253.3" textLength="57" lengthAdjust="spacingAndGlyphs"><tspan font-style="italic">λ</tspan> on ORL</text>
<polygon points="23.3,425.6 120.9,480.2 249,439.2 249,320.9 151.4,266.2 23.3,307.3" fill="#fff"/>
<path d="M23.3 425.6L151.4 384.5L249 439.2M23.3 396L151.4 355L249 409.6M23.3 366.5L151.4 325.4L249 380M23.3 336.9L151.4 295.8L249 350.5M23.3 307.3L151.4 266.2L249 320.9M28.5 305.6L28.5 423.9L126.1 478.6M41.6 301.4L41.6 419.7L139.2 474.4M54.7 297.2L54.7 415.5L152.3 470.2M67.7 293.1L67.7 411.4L165.3 466M80.8 288.9L80.8 407.2L178.4 461.8M93.9 284.7L93.9 403L191.5 457.6M106.9 280.5L106.9 398.8L204.5 453.4M120 276.3L120 394.6L217.6 449.2M133.1 272.1L133.1 390.4L230.7 445M146.2 267.9L146.2 386.2L243.8 440.9M163.6 273.1L163.6 391.4L35.5 432.4M175.8 279.9L175.8 398.2L47.7 439.3M188 286.7L188 405L59.9 446.1M200.2 293.6L200.2 411.9L72.1 452.9M212.4 300.4L212.4 418.7L84.3 459.8M224.6 307.2L224.6 425.5L96.5 466.6M236.8 314L236.8 432.3L108.7 473.4" class="g"/>
<path d="M23.3 307.3L151.4 266.2L249 320.9M151.4 266.2L151.4 384.5" class="g"/>
<g class="b"><g fill="#f9fb12"><polygon points="148.2,287.6 158,293.1 158,397.5 148.2,392"/><polygon points="158,293.1 168.5,289.7 168.5,394.1 158,397.5"/><polygon points="148.2,287.6 158.7,284.2 168.5,289.7 158,293.1"/></g><g fill="#fdcc14"><polygon points="135.2,300.9 144.9,306.4 144.9,401.6 135.2,396.2"/><polygon points="144.9,306.4 155.4,303.1 155.4,398.3 144.9,401.6"/><polygon points="135.2,300.9 145.6,297.6 155.4,303.1 144.9,306.4"/></g><g fill="#e9bb10"><polygon points="122.1,311.6 131.9,317.1 131.9,405.8 122.1,400.4"/><polygon points="131.9,317.1 142.3,313.8 142.3,402.5 131.9,405.8"/><polygon points="122.1,311.6 132.6,308.3 142.3,313.8 131.9,317.1"/></g><g fill="#4acb58"><polygon points="109,314.1 118.8,319.5 118.8,410 109,404.6"/><polygon points="118.8,319.5 129.3,316.2 129.3,406.7 118.8,410"/><polygon points="109,314.1 119.5,310.7 129.3,316.2 118.8,319.5"/></g><g fill="#20c797"><polygon points="96,314.1 105.7,319.6 105.7,414.2 96,408.7"/><polygon points="105.7,319.6 116.2,316.2 116.2,410.9 105.7,414.2"/><polygon points="96,314.1 106.4,310.8 116.2,316.2 105.7,319.6"/></g><g fill="#14b7d4"><polygon points="82.9,326.3 92.7,331.7 92.7,418.4 82.9,412.9"/><polygon points="92.7,331.7 103.1,328.4 103.1,415.1 92.7,418.4"/><polygon points="82.9,326.3 93.4,322.9 103.1,328.4 92.7,331.7"/></g><g fill="#16a0ea"><polygon points="69.8,313.3 79.6,318.8 79.6,422.6 69.8,417.1"/><polygon points="79.6,318.8 90,315.4 90,419.2 79.6,422.6"/><polygon points="69.8,313.3 80.3,310 90,315.4 79.6,318.8"/></g><g fill="#2679f9"><polygon points="56.8,327.3 66.5,332.7 66.5,426.8 56.8,421.3"/><polygon points="66.5,332.7 77,329.4 77,423.4 66.5,426.8"/><polygon points="56.8,327.3 67.2,323.9 77,329.4 66.5,332.7"/></g><g fill="#4a42ea"><polygon points="43.7,350.7 53.4,356.1 53.4,431 43.7,425.5"/><polygon points="53.4,356.1 63.9,352.8 63.9,427.6 53.4,431"/><polygon points="43.7,350.7 54.1,347.3 63.9,352.8 53.4,356.1"/></g><g fill="#3f22a9"><polygon points="30.6,354.9 40.4,360.3 40.4,435.2 30.6,429.7"/><polygon points="40.4,360.3 50.8,357 50.8,431.8 40.4,435.2"/><polygon points="30.6,354.9 41.1,351.5 50.8,357 40.4,360.3"/></g><g fill="#f9fb12"><polygon points="160.4,309.5 170.2,315 170.2,404.3 160.4,398.8"/><polygon points="170.2,315 180.7,311.6 180.7,400.9 170.2,404.3"/><polygon points="160.4,309.5 170.9,306.1 180.7,311.6 170.2,315"/></g><g fill="#fdcc14"><polygon points="147.4,301 157.1,306.4 157.1,408.5 147.4,403"/><polygon points="157.1,306.4 167.6,303.1 167.6,405.1 157.1,408.5"/><polygon points="147.4,301 157.8,297.6 167.6,303.1 157.1,306.4"/></g><g fill="#e9bb10"><polygon points="134.3,314.9 144.1,320.4 144.1,412.7 134.3,407.2"/><polygon points="144.1,320.4 154.5,317 154.5,409.3 144.1,412.7"/><polygon points="134.3,314.9 144.8,311.6 154.5,317 144.1,320.4"/></g><g fill="#4acb58"><polygon points="121.2,317 131,322.5 131,416.9 121.2,411.4"/><polygon points="131,322.5 141.5,319.2 141.5,413.5 131,416.9"/><polygon points="121.2,317 131.7,313.7 141.5,319.2 131,322.5"/></g><g fill="#20c797"><polygon points="108.2,321.8 117.9,327.3 117.9,421 108.2,415.6"/><polygon points="117.9,327.3 128.4,323.9 128.4,417.7 117.9,421"/><polygon points="108.2,321.8 118.6,318.5 128.4,323.9 117.9,327.3"/></g><g fill="#14b7d4"><polygon points="95.1,339.3 104.9,344.8 104.9,425.2 95.1,419.8"/><polygon points="104.9,344.8 115.3,341.4 115.3,421.9 104.9,425.2"/><polygon points="95.1,339.3 105.6,336 115.3,341.4 104.9,344.8"/></g><g fill="#16a0ea"><polygon points="82,351.8 91.8,357.3 91.8,429.4 82,424"/><polygon points="91.8,357.3 102.2,353.9 102.2,426.1 91.8,429.4"/><polygon points="82,351.8 92.5,348.4 102.2,353.9 91.8,357.3"/></g><g fill="#2679f9"><polygon points="69,358.6 78.7,364.1 78.7,433.6 69,428.1"/><polygon points="78.7,364.1 89.2,360.8 89.2,430.3 78.7,433.6"/><polygon points="69,358.6 79.4,355.3 89.2,360.8 78.7,364.1"/></g><g fill="#4a42ea"><polygon points="55.9,380.9 65.7,386.3 65.7,437.8 55.9,432.3"/><polygon points="65.7,386.3 76.1,383 76.1,434.5 65.7,437.8"/><polygon points="55.9,380.9 66.3,377.5 76.1,383 65.7,386.3"/></g><g fill="#3f22a9"><polygon points="42.8,381.5 52.6,387 52.6,442 42.8,436.5"/><polygon points="52.6,387 63,383.6 63,438.6 52.6,442"/><polygon points="42.8,381.5 53.3,378.2 63,383.6 52.6,387"/></g><g fill="#f9fb12"><polygon points="172.6,319.3 182.4,324.8 182.4,411.1 172.6,405.6"/><polygon points="182.4,324.8 192.9,321.4 192.9,407.8 182.4,411.1"/><polygon points="172.6,319.3 183.1,315.9 192.9,321.4 182.4,324.8"/></g><g fill="#fdcc14"><polygon points="159.6,322.9 169.3,328.4 169.3,415.3 159.6,409.8"/><polygon points="169.3,328.4 179.8,325 179.8,411.9 169.3,415.3"/><polygon points="159.6,322.9 170,319.5 179.8,325 169.3,328.4"/></g><g fill="#e9bb10"><polygon points="146.5,327.1 156.3,332.5 156.3,419.5 146.5,414"/><polygon points="156.3,332.5 166.7,329.2 166.7,416.1 156.3,419.5"/><polygon points="146.5,327.1 157,323.7 166.7,329.2 156.3,332.5"/></g><g fill="#4acb58"><polygon points="133.4,331.6 143.2,337 143.2,423.7 133.4,418.2"/><polygon points="143.2,337 153.7,333.7 153.7,420.3 143.2,423.7"/><polygon points="133.4,331.6 143.9,328.2 153.7,333.7 143.2,337"/></g><g fill="#20c797"><polygon points="120.4,335.5 130.1,340.9 130.1,427.9 120.4,422.4"/><polygon points="130.1,340.9 140.6,337.6 140.6,424.5 130.1,427.9"/><polygon points="120.4,335.5 130.8,332.1 140.6,337.6 130.1,340.9"/></g><g fill="#14b7d4"><polygon points="107.3,343.2 117.1,348.7 117.1,432.1 107.3,426.6"/><polygon points="117.1,348.7 127.5,345.3 127.5,428.7 117.1,432.1"/><polygon points="107.3,343.2 117.8,339.8 127.5,345.3 117.1,348.7"/></g><g fill="#16a0ea"><polygon points="94.2,354.5 104,359.9 104,436.3 94.2,430.8"/><polygon points="104,359.9 114.4,356.6 114.4,432.9 104,436.3"/><polygon points="94.2,354.5 104.7,351.1 114.4,356.6 104,359.9"/></g><g fill="#2679f9"><polygon points="81.2,363.1 90.9,368.6 90.9,440.4 81.2,435"/><polygon points="90.9,368.6 101.4,365.2 101.4,437.1 90.9,440.4"/><polygon points="81.2,363.1 91.6,359.8 101.4,365.2 90.9,368.6"/></g><g fill="#4a42ea"><polygon points="68.1,373.2 77.8,378.7 77.8,444.6 68.1,439.2"/><polygon points="77.8,378.7 88.3,375.3 88.3,441.3 77.8,444.6"/><polygon points="68.1,373.2 78.5,369.9 88.3,375.3 77.8,378.7"/></g><g fill="#3f22a9"><polygon points="55,389.5 64.8,395 64.8,448.8 55,443.4"/><polygon points="64.8,395 75.2,391.6 75.2,445.5 64.8,448.8"/><polygon points="55,389.5 65.5,386.2 75.2,391.6 64.8,395"/></g><g fill="#f9fb12"><polygon points="184.8,305.1 194.6,310.6 194.6,417.9 184.8,412.5"/><polygon points="194.6,310.6 205.1,307.2 205.1,414.6 194.6,417.9"/><polygon points="184.8,305.1 195.3,301.8 205.1,307.2 194.6,310.6"/></g><g fill="#fdcc14"><polygon points="171.8,327.4 181.5,332.8 181.5,422.1 171.8,416.7"/><polygon points="181.5,332.8 192,329.5 192,418.8 181.5,422.1"/><polygon points="171.8,327.4 182.2,324 192,329.5 181.5,332.8"/></g><g fill="#e9bb10"><polygon points="158.7,333.9 168.5,339.4 168.5,426.3 158.7,420.9"/><polygon points="168.5,339.4 178.9,336 178.9,423 168.5,426.3"/><polygon points="158.7,333.9 169.2,330.6 178.9,336 168.5,339.4"/></g><g fill="#4acb58"><polygon points="145.6,338.1 155.4,343.6 155.4,430.5 145.6,425"/><polygon points="155.4,343.6 165.9,340.2 165.9,427.2 155.4,430.5"/><polygon points="145.6,338.1 156.1,334.7 165.9,340.2 155.4,343.6"/></g><g fill="#20c797"><polygon points="132.6,342.3 142.3,347.8 142.3,434.7 132.6,429.2"/><polygon points="142.3,347.8 152.8,344.4 152.8,431.4 142.3,434.7"/><polygon points="132.6,342.3 143,338.9 152.8,344.4 142.3,347.8"/></g><g fill="#14b7d4"><polygon points="119.5,336.1 129.3,341.6 129.3,438.9 119.5,433.4"/><polygon points="129.3,341.6 139.7,338.2 139.7,435.5 129.3,438.9"/><polygon points="119.5,336.1 130,332.8 139.7,338.2 129.3,341.6"/></g><g fill="#16a0ea"><polygon points="106.4,359.5 116.2,365 116.2,443.1 106.4,437.6"/><polygon points="116.2,365 126.6,361.7 126.6,439.7 116.2,443.1"/><polygon points="106.4,359.5 116.9,356.2 126.6,361.7 116.2,365"/></g><g fill="#2679f9"><polygon points="93.4,367.6 103.1,373 103.1,447.3 93.4,441.8"/><polygon points="103.1,373 113.6,369.7 113.6,443.9 103.1,447.3"/><polygon points="93.4,367.6 103.8,364.2 113.6,369.7 103.1,373"/></g><g fill="#4a42ea"><polygon points="80.3,372.9 90.1,378.4 90.1,451.5 80.3,446"/><polygon points="90.1,378.4 100.5,375.1 100.5,448.1 90.1,451.5"/><polygon points="80.3,372.9 90.7,369.6 100.5,375.1 90.1,378.4"/></g><g fill="#3f22a9"><polygon points="67.2,410.3 77,415.7 77,455.7 67.2,450.2"/><polygon points="77,415.7 87.4,412.4 87.4,452.3 77,455.7"/><polygon points="67.2,410.3 77.7,406.9 87.4,412.4 77,415.7"/></g><g fill="#f9fb12"><polygon points="197,335.6 206.8,341.1 206.8,424.8 197,419.3"/><polygon points="206.8,341.1 217.3,337.7 217.3,421.4 206.8,424.8"/><polygon points="197,335.6 207.5,332.3 217.3,337.7 206.8,341.1"/></g><g fill="#fdcc14"><polygon points="184,338.9 193.7,344.4 193.7,429 184,423.5"/><polygon points="193.7,344.4 204.2,341 204.2,425.6 193.7,429"/><polygon points="184,338.9 194.4,335.6 204.2,341 193.7,344.4"/></g><g fill="#e9bb10"><polygon points="170.9,336.6 180.7,342.1 180.7,433.2 170.9,427.7"/><polygon points="180.7,342.1 191.1,338.7 191.1,429.8 180.7,433.2"/><polygon points="170.9,336.6 181.4,333.2 191.1,338.7 180.7,342.1"/></g><g fill="#4acb58"><polygon points="157.8,317.4 167.6,322.9 167.6,437.3 157.8,431.9"/><polygon points="167.6,322.9 178.1,319.5 178.1,434 167.6,437.3"/><polygon points="157.8,317.4 168.3,314.1 178.1,319.5 167.6,322.9"/></g><g fill="#20c797"><polygon points="144.8,354.7 154.5,360.2 154.5,441.5 144.8,436.1"/><polygon points="154.5,360.2 165,356.8 165,438.2 154.5,441.5"/><polygon points="144.8,354.7 155.2,351.4 165,356.8 154.5,360.2"/></g><g fill="#14b7d4"><polygon points="131.7,359.8 141.5,365.3 141.5,445.7 131.7,440.3"/><polygon points="141.5,365.3 151.9,361.9 151.9,442.4 141.5,445.7"/><polygon points="131.7,359.8 142.2,356.5 151.9,361.9 141.5,365.3"/></g><g fill="#16a0ea"><polygon points="118.6,367.6 128.4,373 128.4,449.9 118.6,444.4"/><polygon points="128.4,373 138.8,369.7 138.8,446.6 128.4,449.9"/><polygon points="118.6,367.6 129.1,364.2 138.8,369.7 128.4,373"/></g><g fill="#2679f9"><polygon points="105.6,376.5 115.3,381.9 115.3,454.1 105.6,448.6"/><polygon points="115.3,381.9 125.8,378.6 125.8,450.8 115.3,454.1"/><polygon points="105.6,376.5 116,373.1 125.8,378.6 115.3,381.9"/></g><g fill="#4a42ea"><polygon points="92.5,377.7 102.2,383.2 102.2,458.3 92.5,452.8"/><polygon points="102.2,383.2 112.7,379.8 112.7,454.9 102.2,458.3"/><polygon points="92.5,377.7 102.9,374.4 112.7,379.8 102.2,383.2"/></g><g fill="#3f22a9"><polygon points="79.4,389.6 89.2,395.1 89.2,462.5 79.4,457"/><polygon points="89.2,395.1 99.6,391.7 99.6,459.1 89.2,462.5"/><polygon points="79.4,389.6 89.9,386.2 99.6,391.7 89.2,395.1"/></g><g fill="#f9fb12"><polygon points="209.2,340.7 219,346.1 219,431.6 209.2,426.1"/><polygon points="219,346.1 229.5,342.8 229.5,428.2 219,431.6"/><polygon points="209.2,340.7 219.7,337.3 229.5,342.8 219,346.1"/></g><g fill="#fdcc14"><polygon points="196.2,341.3 205.9,346.8 205.9,435.8 196.2,430.3"/><polygon points="205.9,346.8 216.4,343.4 216.4,432.4 205.9,435.8"/><polygon points="196.2,341.3 206.6,338 216.4,343.4 205.9,346.8"/></g><g fill="#e9bb10"><polygon points="183.1,350.2 192.9,355.7 192.9,440 183.1,434.5"/><polygon points="192.9,355.7 203.3,352.3 203.3,436.6 192.9,440"/><polygon points="183.1,350.2 193.6,346.9 203.3,352.3 192.9,355.7"/></g><g fill="#4acb58"><polygon points="170,353.8 179.8,359.3 179.8,444.2 170,438.7"/><polygon points="179.8,359.3 190.3,355.9 190.3,440.8 179.8,444.2"/><polygon points="170,353.8 180.5,350.5 190.3,355.9 179.8,359.3"/></g><g fill="#20c797"><polygon points="157,359.8 166.7,365.3 166.7,448.4 157,442.9"/><polygon points="166.7,365.3 177.2,361.9 177.2,445 166.7,448.4"/><polygon points="157,359.8 167.4,356.4 177.2,361.9 166.7,365.3"/></g><g fill="#14b7d4"><polygon points="143.9,381.7 153.7,387.2 153.7,452.6 143.9,447.1"/><polygon points="153.7,387.2 164.1,383.8 164.1,449.2 153.7,452.6"/><polygon points="143.9,381.7 154.4,378.4 164.1,383.8 153.7,387.2"/></g><g fill="#16a0ea"><polygon points="130.8,386.8 140.6,392.3 140.6,456.7 130.8,451.3"/><polygon points="140.6,392.3 151,388.9 151,453.4 140.6,456.7"/><polygon points="130.8,386.8 141.3,383.5 151,388.9 140.6,392.3"/></g><g fill="#2679f9"><polygon points="117.8,396 127.5,401.5 127.5,460.9 117.8,455.5"/><polygon points="127.5,401.5 138,398.1 138,457.6 127.5,460.9"/><polygon points="117.8,396 128.2,392.7 138,398.1 127.5,401.5"/></g><g fill="#4a42ea"><polygon points="104.7,426.5 114.4,432 114.4,465.1 104.7,459.7"/><polygon points="114.4,432 124.9,428.6 124.9,461.8 114.4,465.1"/><polygon points="104.7,426.5 115.1,423.2 124.9,428.6 114.4,432"/></g><g fill="#3f22a9"><polygon points="91.6,431.3 101.4,436.8 101.4,469.3 91.6,463.8"/><polygon points="101.4,436.8 111.8,433.4 111.8,466 101.4,469.3"/><polygon points="91.6,431.3 102.1,428 111.8,433.4 101.4,436.8"/></g><g fill="#f9fb12"><polygon points="221.4,359.6 231.2,365.1 231.2,438.4 221.4,433"/><polygon points="231.2,365.1 241.7,361.7 241.7,435.1 231.2,438.4"/><polygon points="221.4,359.6 231.9,356.3 241.7,361.7 231.2,365.1"/></g><g fill="#fdcc14"><polygon points="208.4,348.1 218.1,353.6 218.1,442.6 208.4,437.2"/><polygon points="218.1,353.6 228.6,350.2 228.6,439.3 218.1,442.6"/><polygon points="208.4,348.1 218.8,344.8 228.6,350.2 218.1,353.6"/></g><g fill="#e9bb10"><polygon points="195.3,355.6 205.1,361 205.1,446.8 195.3,441.3"/><polygon points="205.1,361 215.5,357.7 215.5,443.5 205.1,446.8"/><polygon points="195.3,355.6 205.8,352.2 215.5,357.7 205.1,361"/></g><g fill="#4acb58"><polygon points="182.2,363.6 192,369.1 192,451 182.2,445.5"/><polygon points="192,369.1 202.5,365.7 202.5,447.7 192,451"/><polygon points="182.2,363.6 192.7,360.3 202.5,365.7 192,369.1"/></g><g fill="#20c797"><polygon points="169.2,388.2 178.9,393.7 178.9,455.2 169.2,449.7"/><polygon points="178.9,393.7 189.4,390.3 189.4,451.8 178.9,455.2"/><polygon points="169.2,388.2 179.6,384.9 189.4,390.3 178.9,393.7"/></g><g fill="#14b7d4"><polygon points="156.1,387.1 165.9,392.5 165.9,459.4 156.1,453.9"/><polygon points="165.9,392.5 176.3,389.2 176.3,456 165.9,459.4"/><polygon points="156.1,387.1 166.6,383.7 176.3,389.2 165.9,392.5"/></g><g fill="#16a0ea"><polygon points="143,392.2 152.8,397.6 152.8,463.6 143,458.1"/><polygon points="152.8,397.6 163.2,394.3 163.2,460.2 152.8,463.6"/><polygon points="143,392.2 153.5,388.8 163.2,394.3 152.8,397.6"/></g><g fill="#2679f9"><polygon points="130,408.2 139.7,413.6 139.7,467.8 130,462.3"/><polygon points="139.7,413.6 150.2,410.3 150.2,464.4 139.7,467.8"/><polygon points="130,408.2 140.4,404.8 150.2,410.3 139.7,413.6"/></g><g fill="#4a42ea"><polygon points="116.9,431 126.7,436.5 126.7,472 116.9,466.5"/><polygon points="126.7,436.5 137.1,433.1 137.1,468.6 126.7,472"/><polygon points="116.9,431 127.3,427.6 137.1,433.1 126.7,436.5"/></g><g fill="#3f22a9"><polygon points="103.8,440.5 113.6,446 113.6,476.1 103.8,470.7"/><polygon points="113.6,446 124,442.6 124,472.8 113.6,476.1"/><polygon points="103.8,440.5 114.3,437.2 124,442.6 113.6,446"/></g></g>
<path d="M23.3 307.3L23.3 425.6L120.9 480.2L249 439.2M23.3 425.6l-2.2 -1.2M23.3 396l-2.2 -1.2M23.3 366.5l-2.2 -1.2M23.3 336.9l-2.2 -1.2M23.3 307.3l-2.2 -1.2M35.5 432.4l-2.2 0.7M47.7 439.3l-2.2 0.7M59.9 446.1l-2.2 0.7M72.1 452.9l-2.2 0.7M84.3 459.8l-2.2 0.7M96.5 466.6l-2.2 0.7M108.7 473.4l-2.2 0.7M126.1 478.6l2 1.1M139.2 474.4l2 1.1M152.3 470.2l2 1.1M165.3 466l2 1.1M178.4 461.8l2 1.1M191.5 457.6l2 1.1M204.5 453.4l2 1.1M217.6 449.2l2 1.1M230.7 445l2 1.1M243.8 440.9l2 1.1" class="a"/>
<g class="t"><text transform="translate(18.5 425.8) scale(1 1.15)" text-anchor="end">58</text><text transform="translate(18.5 396.2) scale(1 1.15)" text-anchor="end">59</text><text transform="translate(18.5 366.7) scale(1 1.15)" text-anchor="end">60</text><text transform="translate(18.5 337.1) scale(1 1.15)" text-anchor="end">61</text><text transform="translate(18.5 307.5) scale(1 1.15)" text-anchor="end">62</text><text transform="translate(30.1 442.2) scale(1 1.15)" text-anchor="end">0.001</text><text transform="translate(42.3 449.1) scale(1 1.15)" text-anchor="end">0.01</text><text transform="translate(54.5 455.9) scale(1 1.15)" text-anchor="end">0.1</text><text transform="translate(66.7 462.7) scale(1 1.15)" text-anchor="end">1</text><text transform="translate(78.9 469.6) scale(1 1.15)" text-anchor="end">10</text><text transform="translate(91.1 476.4) scale(1 1.15)" text-anchor="end">100</text><text transform="translate(103.3 483.2) scale(1 1.15)" text-anchor="end">1000</text><text transform="translate(132.4 490) scale(1 1.15)">50</text><text transform="translate(145.4 485.6) scale(1 1.15)">100</text><text transform="translate(158.4 481.3) scale(1 1.15)">150</text><text transform="translate(171.3 476.9) scale(1 1.15)">200</text><text transform="translate(184.3 472.6) scale(1 1.15)">250</text><text transform="translate(197.3 468.3) scale(1 1.15)">300</text><text transform="translate(210.2 463.9) scale(1 1.15)">350</text><text transform="translate(223.2 459.6) scale(1 1.15)">400</text><text transform="translate(236.2 455.2) scale(1 1.15)">450</text><text transform="translate(249.2 450.9) scale(1 1.15)">500</text><text transform="translate(66.7 486.5) scale(1 1.15)" text-anchor="middle">α</text><text transform="translate(193.8 490) scale(1 1.15)" text-anchor="middle">Demension</text><text transform="translate(7.3 366.4) rotate(-90) scale(1.035 1.15)" text-anchor="middle">Accuracy rate</text></g>
<text class="c" x="92.4" y="513.9" textLength="76.4" lengthAdjust="spacingAndGlyphs"><tspan font-style="italic">α</tspan> on COIL20</text>
<polygon points="311.3,425.6 408.9,480.2 537,439.2 537,320.9 439.4,266.2 311.3,307.3" fill="#fff"/>
<path d="M311.3 425.6L439.4 384.5L537 439.2M311.3 396L439.4 355L537 409.6M311.3 366.5L439.4 325.4L537 380M311.3 336.9L439.4 295.8L537 350.5M311.3 307.3L439.4 266.2L537 320.9M316.5 305.6L316.5 423.9L414.1 478.6M329.6 301.4L329.6 419.7L427.2 474.4M342.7 297.2L342.7 415.5L440.3 470.2M355.7 293.1L355.7 411.4L453.3 466M368.8 288.9L368.8 407.2L466.4 461.8M381.9 284.7L381.9 403L479.5 457.6M394.9 280.5L394.9 398.8L492.5 453.4M408 276.3L408 394.6L505.6 449.2M421.1 272.1L421.1 390.4L518.7 445M434.2 267.9L434.2 386.2L531.8 440.9M451.6 273.1L451.6 391.4L323.5 432.4M463.8 279.9L463.8 398.2L335.7 439.3M476 286.7L476 405L347.9 446.1M488.2 293.6L488.2 411.9L360.1 452.9M500.4 300.4L500.4 418.7L372.3 459.8M512.6 307.2L512.6 425.5L384.5 466.6M524.8 314L524.8 432.3L396.7 473.4" class="g"/>
<path d="M311.3 307.3L439.4 266.2L537 320.9M439.4 266.2L439.4 384.5" class="g"/>
<g class="b"><g fill="#f9fb12"><polygon points="436.2,302.7 446,308.1 446,397.5 436.2,392"/><polygon points="446,308.1 456.5,304.8 456.5,394.1 446,397.5"/><polygon points="436.2,302.7 446.7,299.3 456.5,304.8 446,308.1"/></g><g fill="#fdcc14"><polygon points="423.2,301.5 432.9,307 432.9,401.6 423.2,396.2"/><polygon points="432.9,307 443.4,303.6 443.4,398.3 432.9,401.6"/><polygon points="423.2,301.5 433.6,298.2 443.4,303.6 432.9,307"/></g><g fill="#e9bb10"><polygon points="410.1,312.2 419.9,317.7 419.9,405.8 410.1,400.4"/><polygon points="419.9,317.7 430.3,314.3 430.3,402.5 419.9,405.8"/><polygon points="410.1,312.2 420.6,308.9 430.3,314.3 419.9,317.7"/></g><g fill="#4acb58"><polygon points="397,314.1 406.8,319.5 406.8,410 397,404.6"/><polygon points="406.8,319.5 417.3,316.2 417.3,406.7 406.8,410"/><polygon points="397,314.1 407.5,310.7 417.3,316.2 406.8,319.5"/></g><g fill="#20c797"><polygon points="384,314.7 393.7,320.2 393.7,414.2 384,408.7"/><polygon points="393.7,320.2 404.2,316.8 404.2,410.9 393.7,414.2"/><polygon points="384,314.7 394.4,311.3 404.2,316.8 393.7,320.2"/></g><g fill="#14b7d4"><polygon points="370.9,334.9 380.7,340.3 380.7,418.4 370.9,412.9"/><polygon points="380.7,340.3 391.1,337 391.1,415.1 380.7,418.4"/><polygon points="370.9,334.9 381.4,331.5 391.1,337 380.7,340.3"/></g><g fill="#16a0ea"><polygon points="357.8,321.9 367.6,327.4 367.6,422.6 357.8,417.1"/><polygon points="367.6,327.4 378,324 378,419.2 367.6,422.6"/><polygon points="357.8,321.9 368.3,318.5 378,324 367.6,327.4"/></g><g fill="#2679f9"><polygon points="344.8,327.3 354.5,332.7 354.5,426.8 344.8,421.3"/><polygon points="354.5,332.7 365,329.4 365,423.4 354.5,426.8"/><polygon points="344.8,327.3 355.2,323.9 365,329.4 354.5,332.7"/></g><g fill="#4a42ea"><polygon points="331.7,357.5 341.4,362.9 341.4,431 331.7,425.5"/><polygon points="341.4,362.9 351.9,359.6 351.9,427.6 341.4,431"/><polygon points="331.7,357.5 342.1,354.1 351.9,359.6 341.4,362.9"/></g><g fill="#3f22a9"><polygon points="318.6,370.3 328.4,375.7 328.4,435.2 318.6,429.7"/><polygon points="328.4,375.7 338.8,372.4 338.8,431.8 328.4,435.2"/><polygon points="318.6,370.3 329.1,366.9 338.8,372.4 328.4,375.7"/></g><g fill="#f9fb12"><polygon points="448.4,311.9 458.2,317.3 458.2,404.3 448.4,398.8"/><polygon points="458.2,317.3 468.7,314 468.7,400.9 458.2,404.3"/><polygon points="448.4,311.9 458.9,308.5 468.7,314 458.2,317.3"/></g><g fill="#fdcc14"><polygon points="435.4,316.1 445.1,321.5 445.1,408.5 435.4,403"/><polygon points="445.1,321.5 455.6,318.2 455.6,405.1 445.1,408.5"/><polygon points="435.4,316.1 445.8,312.7 455.6,318.2 445.1,321.5"/></g><g fill="#e9bb10"><polygon points="422.3,320.2 432.1,325.7 432.1,412.7 422.3,407.2"/><polygon points="432.1,325.7 442.5,322.4 442.5,409.3 432.1,412.7"/><polygon points="422.3,320.2 432.8,316.9 442.5,322.4 432.1,325.7"/></g><g fill="#4acb58"><polygon points="409.2,325.9 419,331.4 419,416.9 409.2,411.4"/><polygon points="419,331.4 429.5,328 429.5,413.5 419,416.9"/><polygon points="409.2,325.9 419.7,322.6 429.5,328 419,331.4"/></g><g fill="#20c797"><polygon points="396.2,331.9 405.9,337.3 405.9,421 396.2,415.6"/><polygon points="405.9,337.3 416.4,334 416.4,417.7 405.9,421"/><polygon points="396.2,331.9 406.6,328.5 416.4,334 405.9,337.3"/></g><g fill="#14b7d4"><polygon points="383.1,344.6 392.9,350.1 392.9,425.2 383.1,419.8"/><polygon points="392.9,350.1 403.3,346.8 403.3,421.9 392.9,425.2"/><polygon points="383.1,344.6 393.6,341.3 403.3,346.8 392.9,350.1"/></g><g fill="#16a0ea"><polygon points="370,360.1 379.8,365.5 379.8,429.4 370,424"/><polygon points="379.8,365.5 390.2,362.2 390.2,426.1 379.8,429.4"/><polygon points="370,360.1 380.5,356.7 390.2,362.2 379.8,365.5"/></g><g fill="#2679f9"><polygon points="357,356.3 366.7,361.7 366.7,433.6 357,428.1"/><polygon points="366.7,361.7 377.2,358.4 377.2,430.3 366.7,433.6"/><polygon points="357,356.3 367.4,352.9 377.2,358.4 366.7,361.7"/></g><g fill="#4a42ea"><polygon points="343.9,366.4 353.6,371.8 353.6,437.8 343.9,432.3"/><polygon points="353.6,371.8 364.1,368.5 364.1,434.5 353.6,437.8"/><polygon points="343.9,366.4 354.3,363 364.1,368.5 353.6,371.8"/></g><g fill="#3f22a9"><polygon points="330.8,366.4 340.6,371.9 340.6,442 330.8,436.5"/><polygon points="340.6,371.9 351,368.5 351,438.6 340.6,442"/><polygon points="330.8,366.4 341.3,363.1 351,368.5 340.6,371.9"/></g><g fill="#f9fb12"><polygon points="460.6,300.1 470.4,305.5 470.4,411.1 460.6,405.6"/><polygon points="470.4,305.5 480.9,302.2 480.9,407.8 470.4,411.1"/><polygon points="460.6,300.1 471.1,296.7 480.9,302.2 470.4,305.5"/></g><g fill="#fdcc14"><polygon points="447.6,314.3 457.3,319.8 457.3,415.3 447.6,409.8"/><polygon points="457.3,319.8 467.8,316.4 467.8,411.9 457.3,415.3"/><polygon points="447.6,314.3 458,311 467.8,316.4 457.3,319.8"/></g><g fill="#e9bb10"><polygon points="434.5,327.1 444.3,332.5 444.3,419.5 434.5,414"/><polygon points="444.3,332.5 454.7,329.2 454.7,416.1 444.3,419.5"/><polygon points="434.5,327.1 445,323.7 454.7,329.2 444.3,332.5"/></g><g fill="#4acb58"><polygon points="421.4,328.6 431.2,334.1 431.2,423.7 421.4,418.2"/><polygon points="431.2,334.1 441.7,330.7 441.7,420.3 431.2,423.7"/><polygon points="421.4,328.6 431.9,325.3 441.7,330.7 431.2,334.1"/></g><g fill="#20c797"><polygon points="408.4,335.5 418.1,340.9 418.1,427.9 408.4,422.4"/><polygon points="418.1,340.9 428.6,337.6 428.6,424.5 418.1,427.9"/><polygon points="408.4,335.5 418.8,332.1 428.6,337.6 418.1,340.9"/></g><g fill="#14b7d4"><polygon points="395.3,340.2 405.1,345.7 405.1,432.1 395.3,426.6"/><polygon points="405.1,345.7 415.5,342.4 415.5,428.7 405.1,432.1"/><polygon points="395.3,340.2 405.8,336.9 415.5,342.4 405.1,345.7"/></g><g fill="#16a0ea"><polygon points="382.2,328.5 392,333.9 392,436.3 382.2,430.8"/><polygon points="392,333.9 402.4,330.6 402.4,432.9 392,436.3"/><polygon points="382.2,328.5 392.7,325.1 402.4,330.6 392,333.9"/></g><g fill="#2679f9"><polygon points="369.2,359.9 378.9,365.3 378.9,440.4 369.2,435"/><polygon points="378.9,365.3 389.4,362 389.4,437.1 378.9,440.4"/><polygon points="369.2,359.9 379.6,356.5 389.4,362 378.9,365.3"/></g><g fill="#4a42ea"><polygon points="356.1,364 365.9,369.5 365.9,444.6 356.1,439.2"/><polygon points="365.9,369.5 376.3,366.2 376.3,441.3 365.9,444.6"/><polygon points="356.1,364 366.5,360.7 376.3,366.2 365.9,369.5"/></g><g fill="#3f22a9"><polygon points="343,368.5 352.8,374 352.8,448.8 343,443.4"/><polygon points="352.8,374 363.2,370.6 363.2,445.5 352.8,448.8"/><polygon points="343,368.5 353.5,365.2 363.2,370.6 352.8,374"/></g><g fill="#f9fb12"><polygon points="472.9,322.6 482.6,328 482.6,417.9 472.9,412.5"/><polygon points="482.6,328 493.1,324.7 493.1,414.6 482.6,417.9"/><polygon points="472.9,322.6 483.3,319.2 493.1,324.7 482.6,328"/></g><g fill="#fdcc14"><polygon points="459.8,326.8 469.5,332.2 469.5,422.1 459.8,416.7"/><polygon points="469.5,332.2 480,328.9 480,418.8 469.5,422.1"/><polygon points="459.8,326.8 470.2,323.4 480,328.9 469.5,332.2"/></g><g fill="#e9bb10"><polygon points="446.7,329.5 456.5,334.9 456.5,426.3 446.7,420.9"/><polygon points="456.5,334.9 466.9,331.6 466.9,423 456.5,426.3"/><polygon points="446.7,329.5 457.2,326.1 466.9,331.6 456.5,334.9"/></g><g fill="#4acb58"><polygon points="433.6,310.3 443.4,315.8 443.4,430.5 433.6,425"/><polygon points="443.4,315.8 453.9,312.4 453.9,427.2 443.4,430.5"/><polygon points="433.6,310.3 444.1,306.9 453.9,312.4 443.4,315.8"/></g><g fill="#20c797"><polygon points="420.6,342.3 430.3,347.8 430.3,434.7 420.6,429.2"/><polygon points="430.3,347.8 440.8,344.4 440.8,431.4 430.3,434.7"/><polygon points="420.6,342.3 431,338.9 440.8,344.4 430.3,347.8"/></g><g fill="#14b7d4"><polygon points="407.5,349.4 417.3,354.9 417.3,438.9 407.5,433.4"/><polygon points="417.3,354.9 427.7,351.5 427.7,435.5 417.3,438.9"/><polygon points="407.5,349.4 418,346.1 427.7,351.5 417.3,354.9"/></g><g fill="#16a0ea"><polygon points="394.4,359.8 404.2,365.3 404.2,443.1 394.4,437.6"/><polygon points="404.2,365.3 414.6,361.9 414.6,439.7 404.2,443.1"/><polygon points="394.4,359.8 404.9,356.5 414.6,361.9 404.2,365.3"/></g><g fill="#2679f9"><polygon points="381.4,369.6 391.1,375.1 391.1,447.3 381.4,441.8"/><polygon points="391.1,375.1 401.6,371.8 401.6,443.9 391.1,447.3"/><polygon points="381.4,369.6 391.8,366.3 401.6,371.8 391.1,375.1"/></g><g fill="#4a42ea"><polygon points="368.3,370 378.1,375.5 378.1,451.5 368.3,446"/><polygon points="378.1,375.5 388.5,372.1 388.5,448.1 378.1,451.5"/><polygon points="368.3,370 378.7,366.6 388.5,372.1 378.1,375.5"/></g><g fill="#3f22a9"><polygon points="355.2,381 365,386.4 365,455.7 355.2,450.2"/><polygon points="365,386.4 375.4,383.1 375.4,452.3 365,455.7"/><polygon points="355.2,381 365.7,377.6 375.4,383.1 365,386.4"/></g><g fill="#f9fb12"><polygon points="485.1,312 494.8,317.4 494.8,424.8 485.1,419.3"/><polygon points="494.8,317.4 505.3,314.1 505.3,421.4 494.8,424.8"/><polygon points="485.1,312 495.5,308.6 505.3,314.1 494.8,317.4"/></g><g fill="#fdcc14"><polygon points="472,322.1 481.7,327.5 481.7,429 472,423.5"/><polygon points="481.7,327.5 492.2,324.2 492.2,425.6 481.7,429"/><polygon points="472,322.1 482.4,318.7 492.2,324.2 481.7,327.5"/></g><g fill="#e9bb10"><polygon points="458.9,335.1 468.7,340.6 468.7,433.2 458.9,427.7"/><polygon points="468.7,340.6 479.1,337.2 479.1,429.8 468.7,433.2"/><polygon points="458.9,335.1 469.4,331.8 479.1,337.2 468.7,340.6"/></g><g fill="#4acb58"><polygon points="445.8,342 455.6,347.4 455.6,437.3 445.8,431.9"/><polygon points="455.6,347.4 466.1,344.1 466.1,434 455.6,437.3"/><polygon points="445.8,342 456.3,338.6 466.1,344.1 455.6,347.4"/></g><g fill="#20c797"><polygon points="432.8,342.3 442.5,347.8 442.5,441.5 432.8,436.1"/><polygon points="442.5,347.8 453,344.4 453,438.2 442.5,441.5"/><polygon points="432.8,342.3 443.2,339 453,344.4 442.5,347.8"/></g><g fill="#14b7d4"><polygon points="419.7,342.7 429.5,348.1 429.5,445.7 419.7,440.3"/><polygon points="429.5,348.1 439.9,344.8 439.9,442.4 429.5,445.7"/><polygon points="419.7,342.7 430.2,339.3 439.9,344.8 429.5,348.1"/></g><g fill="#16a0ea"><polygon points="406.6,366.4 416.4,371.8 416.4,449.9 406.6,444.4"/><polygon points="416.4,371.8 426.8,368.5 426.8,446.6 416.4,449.9"/><polygon points="406.6,366.4 417.1,363 426.8,368.5 416.4,371.8"/></g><g fill="#2679f9"><polygon points="393.6,375.6 403.3,381.1 403.3,454.1 393.6,448.6"/><polygon points="403.3,381.1 413.8,377.7 413.8,450.8 403.3,454.1"/><polygon points="393.6,375.6 404,372.2 413.8,377.7 403.3,381.1"/></g><g fill="#4a42ea"><polygon points="380.5,379.8 390.2,385.2 390.2,458.3 380.5,452.8"/><polygon points="390.2,385.2 400.7,381.9 400.7,454.9 390.2,458.3"/><polygon points="380.5,379.8 390.9,376.4 400.7,381.9 390.2,385.2"/></g><g fill="#3f22a9"><polygon points="367.4,401.1 377.2,406.6 377.2,462.5 367.4,457"/><polygon points="377.2,406.6 387.6,403.2 387.6,459.1 377.2,462.5"/><polygon points="367.4,401.1 377.9,397.8 387.6,403.2 377.2,406.6"/></g><g fill="#f9fb12"><polygon points="497.2,345.1 507,350.6 507,431.6 497.2,426.1"/><polygon points="507,350.6 517.5,347.2 517.5,428.2 507,431.6"/><polygon points="497.2,345.1 507.7,341.8 517.5,347.2 507,350.6"/></g><g fill="#fdcc14"><polygon points="484.2,340.7 493.9,346.2 493.9,435.8 484.2,430.3"/><polygon points="493.9,346.2 504.4,342.8 504.4,432.4 493.9,435.8"/><polygon points="484.2,340.7 494.6,337.4 504.4,342.8 493.9,346.2"/></g><g fill="#e9bb10"><polygon points="471.1,347.6 480.9,353 480.9,440 471.1,434.5"/><polygon points="480.9,353 491.3,349.7 491.3,436.6 480.9,440"/><polygon points="471.1,347.6 481.6,344.2 491.3,349.7 480.9,353"/></g><g fill="#4acb58"><polygon points="458,344.1 467.8,349.5 467.8,444.2 458,438.7"/><polygon points="467.8,349.5 478.3,346.2 478.3,440.8 467.8,444.2"/><polygon points="458,344.1 468.5,340.7 478.3,346.2 467.8,349.5"/></g><g fill="#20c797"><polygon points="445,362.7 454.7,368.2 454.7,448.4 445,442.9"/><polygon points="454.7,368.2 465.2,364.9 465.2,445 454.7,448.4"/><polygon points="445,362.7 455.4,359.4 465.2,364.9 454.7,368.2"/></g><g fill="#14b7d4"><polygon points="431.9,372.3 441.7,377.7 441.7,452.6 431.9,447.1"/><polygon points="441.7,377.7 452.1,374.4 452.1,449.2 441.7,452.6"/><polygon points="431.9,372.3 442.4,368.9 452.1,374.4 441.7,377.7"/></g><g fill="#16a0ea"><polygon points="418.8,387.1 428.6,392.6 428.6,456.7 418.8,451.3"/><polygon points="428.6,392.6 439,389.2 439,453.4 428.6,456.7"/><polygon points="418.8,387.1 429.3,383.7 439,389.2 428.6,392.6"/></g><g fill="#2679f9"><polygon points="405.8,398.7 415.5,404.1 415.5,460.9 405.8,455.5"/><polygon points="415.5,404.1 426,400.8 426,457.6 415.5,460.9"/><polygon points="405.8,398.7 416.2,395.3 426,400.8 415.5,404.1"/></g><g fill="#4a42ea"><polygon points="392.7,420.3 402.4,425.8 402.4,465.1 392.7,459.7"/><polygon points="402.4,425.8 412.9,422.4 412.9,461.8 402.4,465.1"/><polygon points="392.7,420.3 403.1,417 412.9,422.4 402.4,425.8"/></g><g fill="#3f22a9"><polygon points="379.6,431.3 389.4,436.8 389.4,469.3 379.6,463.8"/><polygon points="389.4,436.8 399.8,433.4 399.8,466 389.4,469.3"/><polygon points="379.6,431.3 390.1,428 399.8,433.4 389.4,436.8"/></g><g fill="#f9fb12"><polygon points="509.4,329.5 519.2,334.9 519.2,438.4 509.4,433"/><polygon points="519.2,334.9 529.7,331.6 529.7,435.1 519.2,438.4"/><polygon points="509.4,329.5 519.9,326.1 529.7,331.6 519.2,334.9"/></g><g fill="#fdcc14"><polygon points="496.4,346.7 506.1,352.1 506.1,442.6 496.4,437.2"/><polygon points="506.1,352.1 516.6,348.8 516.6,439.3 506.1,442.6"/><polygon points="496.4,346.7 506.8,343.3 516.6,348.8 506.1,352.1"/></g><g fill="#e9bb10"><polygon points="483.3,355 493.1,360.5 493.1,446.8 483.3,441.3"/><polygon points="493.1,360.5 503.5,357.1 503.5,443.5 493.1,446.8"/><polygon points="483.3,355 493.8,351.6 503.5,357.1 493.1,360.5"/></g><g fill="#4acb58"><polygon points="470.2,360.1 480,365.5 480,451 470.2,445.5"/><polygon points="480,365.5 490.5,362.2 490.5,447.7 480,451"/><polygon points="470.2,360.1 480.7,356.7 490.5,362.2 480,365.5"/></g><g fill="#20c797"><polygon points="457.2,367.2 466.9,372.7 466.9,455.2 457.2,449.7"/><polygon points="466.9,372.7 477.4,369.3 477.4,451.8 466.9,455.2"/><polygon points="457.2,367.2 467.6,363.9 477.4,369.3 466.9,372.7"/></g><g fill="#14b7d4"><polygon points="444.1,388 453.9,393.4 453.9,459.4 444.1,453.9"/><polygon points="453.9,393.4 464.3,390.1 464.3,456 453.9,459.4"/><polygon points="444.1,388 454.6,384.6 464.3,390.1 453.9,393.4"/></g><g fill="#16a0ea"><polygon points="431,404.9 440.8,410.3 440.8,463.6 431,458.1"/><polygon points="440.8,410.3 451.2,407 451.2,460.2 440.8,463.6"/><polygon points="431,404.9 441.5,401.5 451.2,407 440.8,410.3"/></g><g fill="#2679f9"><polygon points="418,407.9 427.7,413.3 427.7,467.8 418,462.3"/><polygon points="427.7,413.3 438.2,410 438.2,464.4 427.7,467.8"/><polygon points="418,407.9 428.4,404.5 438.2,410 427.7,413.3"/></g><g fill="#4a42ea"><polygon points="404.9,423.9 414.7,429.4 414.7,472 404.9,466.5"/><polygon points="414.7,429.4 425.1,426 425.1,468.6 414.7,472"/><polygon points="404.9,423.9 415.3,420.5 425.1,426 414.7,429.4"/></g><g fill="#3f22a9"><polygon points="391.8,440.8 401.6,446.3 401.6,476.1 391.8,470.7"/><polygon points="401.6,446.3 412,442.9 412,472.8 401.6,476.1"/><polygon points="391.8,440.8 402.3,437.5 412,442.9 401.6,446.3"/></g></g>
<path d="M311.3 307.3L311.3 425.6L408.9 480.2L537 439.2M311.3 425.6l-2.2 -1.2M311.3 396l-2.2 -1.2M311.3 366.5l-2.2 -1.2M311.3 336.9l-2.2 -1.2M311.3 307.3l-2.2 -1.2M323.5 432.4l-2.2 0.7M335.7 439.3l-2.2 0.7M347.9 446.1l-2.2 0.7M360.1 452.9l-2.2 0.7M372.3 459.8l-2.2 0.7M384.5 466.6l-2.2 0.7M396.7 473.4l-2.2 0.7M414.1 478.6l2 1.1M427.2 474.4l2 1.1M440.3 470.2l2 1.1M453.3 466l2 1.1M466.4 461.8l2 1.1M479.5 457.6l2 1.1M492.5 453.4l2 1.1M505.6 449.2l2 1.1M518.7 445l2 1.1M531.8 440.9l2 1.1" class="a"/>
<g class="t"><text transform="translate(306.5 425.8) scale(1 1.15)" text-anchor="end">58</text><text transform="translate(306.5 396.2) scale(1 1.15)" text-anchor="end">59</text><text transform="translate(306.5 366.7) scale(1 1.15)" text-anchor="end">60</text><text transform="translate(306.5 337.1) scale(1 1.15)" text-anchor="end">61</text><text transform="translate(306.5 307.5) scale(1 1.15)" text-anchor="end">62</text><text transform="translate(318.1 442.2) scale(1 1.15)" text-anchor="end">0.001</text><text transform="translate(330.3 449.1) scale(1 1.15)" text-anchor="end">0.01</text><text transform="translate(342.5 455.9) scale(1 1.15)" text-anchor="end">0.1</text><text transform="translate(354.7 462.7) scale(1 1.15)" text-anchor="end">1</text><text transform="translate(366.9 469.6) scale(1 1.15)" text-anchor="end">10</text><text transform="translate(379.1 476.4) scale(1 1.15)" text-anchor="end">100</text><text transform="translate(391.3 483.2) scale(1 1.15)" text-anchor="end">1000</text><text transform="translate(420.4 490) scale(1 1.15)">50</text><text transform="translate(433.4 485.6) scale(1 1.15)">100</text><text transform="translate(446.4 481.3) scale(1 1.15)">150</text><text transform="translate(459.3 476.9) scale(1 1.15)">200</text><text transform="translate(472.3 472.6) scale(1 1.15)">250</text><text transform="translate(485.3 468.3) scale(1 1.15)">300</text><text transform="translate(498.2 463.9) scale(1 1.15)">350</text><text transform="translate(511.2 459.6) scale(1 1.15)">400</text><text transform="translate(524.2 455.2) scale(1 1.15)">450</text><text transform="translate(537.2 450.9) scale(1 1.15)">500</text><text transform="translate(354.7 486.5) scale(1 1.15)" text-anchor="middle">β</text><text transform="translate(481.8 490) scale(1 1.15)" text-anchor="middle">Demension</text><text transform="translate(295.3 366.4) rotate(-90) scale(1.035 1.15)" text-anchor="middle">Accuracy rate</text></g>
<text class="c" x="380.4" y="513.9" textLength="76.4" lengthAdjust="spacingAndGlyphs"><tspan font-style="italic">β</tspan> on COIL20</text>
<polygon points="23.3,685.6 120.9,740.2 249,699.2 249,580.9 151.4,526.2 23.3,567.3" fill="#fff"/>
<path d="M23.3 685.6L151.4 644.5L249 699.2M23.3 656L151.4 615L249 669.6M23.3 626.5L151.4 585.4L249 640M23.3 596.9L151.4 555.8L249 610.5M23.3 567.3L151.4 526.2L249 580.9M28.5 565.6L28.5 683.9L126.1 738.6M41.6 561.4L41.6 679.7L139.2 734.4M54.7 557.2L54.7 675.5L152.3 730.2M67.7 553.1L67.7 671.4L165.3 726M80.8 548.9L80.8 667.2L178.4 721.8M93.9 544.7L93.9 663L191.5 717.6M106.9 540.5L106.9 658.8L204.5 713.4M120 536.3L120 654.6L217.6 709.2M133.1 532.1L133.1 650.4L230.7 705M146.2 527.9L146.2 646.2L243.8 700.9M163.6 533.1L163.6 651.4L35.5 692.4M175.8 539.9L175.8 658.2L47.7 699.3M188 546.7L188 665L59.9 706.1M200.2 553.6L200.2 671.9L72.1 712.9M212.4 560.4L212.4 678.7L84.3 719.8M224.6 567.2L224.6 685.5L96.5 726.6M236.8 574L236.8 692.3L108.7 733.4" class="g"/>
<path d="M23.3 567.3L151.4 526.2L249 580.9M151.4 526.2L151.4 644.5" class="g"/>
<g class="b"><g fill="#f9fb12"><polygon points="148.2,547.6 158,553.1 158,657.5 148.2,652"/><polygon points="158,553.1 168.5,549.7 168.5,654.1 158,657.5"/><polygon points="148.2,547.6 158.7,544.2 168.5,549.7 158,553.1"/></g><g fill="#fdcc14"><polygon points="135.2,560.4 144.9,565.8 144.9,661.6 135.2,656.2"/><polygon points="144.9,565.8 155.4,562.5 155.4,658.3 144.9,661.6"/><polygon points="135.2,560.4 145.6,557 155.4,562.5 144.9,565.8"/></g><g fill="#e9bb10"><polygon points="122.1,576.1 131.9,581.5 131.9,665.8 122.1,660.4"/><polygon points="131.9,581.5 142.3,578.2 142.3,662.5 131.9,665.8"/><polygon points="122.1,576.1 132.6,572.7 142.3,578.2 131.9,581.5"/></g><g fill="#4acb58"><polygon points="109,575.5 118.8,581 118.8,670 109,664.6"/><polygon points="118.8,581 129.3,577.6 129.3,666.7 118.8,670"/><polygon points="109,575.5 119.5,572.2 129.3,577.6 118.8,581"/></g><g fill="#20c797"><polygon points="96,585.6 105.7,591.1 105.7,674.2 96,668.7"/><polygon points="105.7,591.1 116.2,587.8 116.2,670.9 105.7,674.2"/><polygon points="96,585.6 106.4,582.3 116.2,587.8 105.7,591.1"/></g><g fill="#14b7d4"><polygon points="82.9,586.3 92.7,591.7 92.7,678.4 82.9,672.9"/><polygon points="92.7,591.7 103.1,588.4 103.1,675.1 92.7,678.4"/><polygon points="82.9,586.3 93.4,582.9 103.1,588.4 92.7,591.7"/></g><g fill="#16a0ea"><polygon points="69.8,573.6 79.6,579.1 79.6,682.6 69.8,677.1"/><polygon points="79.6,579.1 90,575.7 90,679.2 79.6,682.6"/><polygon points="69.8,573.6 80.3,570.3 90,575.7 79.6,579.1"/></g><g fill="#2679f9"><polygon points="56.8,621.3 66.5,626.7 66.5,686.8 56.8,681.3"/><polygon points="66.5,626.7 77,623.4 77,683.4 66.5,686.8"/><polygon points="56.8,621.3 67.2,617.9 77,623.4 66.5,626.7"/></g><g fill="#4a42ea"><polygon points="43.7,611 53.4,616.4 53.4,691 43.7,685.5"/><polygon points="53.4,616.4 63.9,613.1 63.9,687.6 53.4,691"/><polygon points="43.7,611 54.1,607.6 63.9,613.1 53.4,616.4"/></g><g fill="#3f22a9"><polygon points="30.6,614.9 40.4,620.3 40.4,695.2 30.6,689.7"/><polygon points="40.4,620.3 50.8,617 50.8,691.8 40.4,695.2"/><polygon points="30.6,614.9 41.1,611.5 50.8,617 40.4,620.3"/></g><g fill="#f9fb12"><polygon points="160.4,571.9 170.2,577.3 170.2,664.3 160.4,658.8"/><polygon points="170.2,577.3 180.7,574 180.7,660.9 170.2,664.3"/><polygon points="160.4,571.9 170.9,568.5 180.7,574 170.2,577.3"/></g><g fill="#fdcc14"><polygon points="147.4,576.1 157.1,581.5 157.1,668.5 147.4,663"/><polygon points="157.1,581.5 167.6,578.2 167.6,665.1 157.1,668.5"/><polygon points="147.4,576.1 157.8,572.7 167.6,578.2 157.1,581.5"/></g><g fill="#e9bb10"><polygon points="134.3,583.2 144.1,588.7 144.1,672.7 134.3,667.2"/><polygon points="144.1,588.7 154.5,585.3 154.5,669.3 144.1,672.7"/><polygon points="134.3,583.2 144.8,579.9 154.5,585.3 144.1,588.7"/></g><g fill="#4acb58"><polygon points="121.2,587.4 131,592.9 131,676.9 121.2,671.4"/><polygon points="131,592.9 141.5,589.5 141.5,673.5 131,676.9"/><polygon points="121.2,587.4 131.7,584 141.5,589.5 131,592.9"/></g><g fill="#20c797"><polygon points="108.2,594.5 117.9,600 117.9,681 108.2,675.6"/><polygon points="117.9,600 128.4,596.7 128.4,677.7 117.9,681"/><polygon points="108.2,594.5 118.6,591.2 128.4,596.7 117.9,600"/></g><g fill="#14b7d4"><polygon points="95.1,604.6 104.9,610.1 104.9,685.2 95.1,679.8"/><polygon points="104.9,610.1 115.3,606.8 115.3,681.9 104.9,685.2"/><polygon points="95.1,604.6 105.6,601.3 115.3,606.8 104.9,610.1"/></g><g fill="#16a0ea"><polygon points="82,612.1 91.8,617.6 91.8,689.4 82,684"/><polygon points="91.8,617.6 102.2,614.2 102.2,686.1 91.8,689.4"/><polygon points="82,612.1 92.5,608.7 102.2,614.2 91.8,617.6"/></g><g fill="#2679f9"><polygon points="69,622.2 78.7,627.7 78.7,693.6 69,688.1"/><polygon points="78.7,627.7 89.2,624.3 89.2,690.3 78.7,693.6"/><polygon points="69,622.2 79.4,618.8 89.2,624.3 78.7,627.7"/></g><g fill="#4a42ea"><polygon points="55.9,632.3 65.7,637.8 65.7,697.8 55.9,692.3"/><polygon points="65.7,637.8 76.1,634.4 76.1,694.5 65.7,697.8"/><polygon points="55.9,632.3 66.3,628.9 76.1,634.4 65.7,637.8"/></g><g fill="#3f22a9"><polygon points="42.8,643.9 52.6,649.3 52.6,702 42.8,696.5"/><polygon points="52.6,649.3 63,646 63,698.6 52.6,702"/><polygon points="42.8,643.9 53.3,640.5 63,646 52.6,649.3"/></g><g fill="#f9fb12"><polygon points="172.6,577.2 182.4,582.7 182.4,671.1 172.6,665.6"/><polygon points="182.4,582.7 192.9,579.3 192.9,667.8 182.4,671.1"/><polygon points="172.6,577.2 183.1,573.9 192.9,579.3 182.4,582.7"/></g><g fill="#fdcc14"><polygon points="159.6,567.8 169.3,573.3 169.3,675.3 159.6,669.8"/><polygon points="169.3,573.3 179.8,569.9 179.8,672 169.3,675.3"/><polygon points="159.6,567.8 170,564.5 179.8,569.9 169.3,573.3"/></g><g fill="#e9bb10"><polygon points="146.5,582.3 156.3,587.8 156.3,679.5 146.5,674"/><polygon points="156.3,587.8 166.7,584.5 166.7,676.1 156.3,679.5"/><polygon points="146.5,582.3 157,579 166.7,584.5 156.3,587.8"/></g><g fill="#4acb58"><polygon points="133.4,563.8 143.2,569.2 143.2,683.7 133.4,678.2"/><polygon points="143.2,569.2 153.7,565.9 153.7,680.3 143.2,683.7"/><polygon points="133.4,563.8 143.9,560.4 153.7,565.9 143.2,569.2"/></g><g fill="#20c797"><polygon points="120.4,588.1 130.1,593.5 130.1,687.9 120.4,682.4"/><polygon points="130.1,593.5 140.6,590.2 140.6,684.5 130.1,687.9"/><polygon points="120.4,588.1 130.8,584.7 140.6,590.2 130.1,593.5"/></g><g fill="#14b7d4"><polygon points="107.3,604.1 117.1,609.5 117.1,692.1 107.3,686.6"/><polygon points="117.1,609.5 127.5,606.2 127.5,688.7 117.1,692.1"/><polygon points="107.3,604.1 117.8,600.7 127.5,606.2 117.1,609.5"/></g><g fill="#16a0ea"><polygon points="94.2,613 104,618.5 104,696.3 94.2,690.8"/><polygon points="104,618.5 114.4,615.1 114.4,692.9 104,696.3"/><polygon points="94.2,613 104.7,609.7 114.4,615.1 104,618.5"/></g><g fill="#2679f9"><polygon points="81.2,620.4 90.9,625.9 90.9,700.4 81.2,695"/><polygon points="90.9,625.9 101.4,622.6 101.4,697.1 90.9,700.4"/><polygon points="81.2,620.4 91.6,617.1 101.4,622.6 90.9,625.9"/></g><g fill="#4a42ea"><polygon points="68.1,624 77.8,629.5 77.8,704.6 68.1,699.2"/><polygon points="77.8,629.5 88.3,626.2 88.3,701.3 77.8,704.6"/><polygon points="68.1,624 78.5,620.7 88.3,626.2 77.8,629.5"/></g><g fill="#3f22a9"><polygon points="55,635.3 64.8,640.8 64.8,708.8 55,703.4"/><polygon points="64.8,640.8 75.2,637.4 75.2,705.5 64.8,708.8"/><polygon points="55,635.3 65.5,632 75.2,637.4 64.8,640.8"/></g><g fill="#f9fb12"><polygon points="184.8,565.1 194.6,570.6 194.6,677.9 184.8,672.5"/><polygon points="194.6,570.6 205.1,567.2 205.1,674.6 194.6,677.9"/><polygon points="184.8,565.1 195.3,561.8 205.1,567.2 194.6,570.6"/></g><g fill="#fdcc14"><polygon points="171.8,587.4 181.5,592.8 181.5,682.1 171.8,676.7"/><polygon points="181.5,592.8 192,589.5 192,678.8 181.5,682.1"/><polygon points="171.8,587.4 182.2,584 192,589.5 181.5,592.8"/></g><g fill="#e9bb10"><polygon points="158.7,588.6 168.5,594 168.5,686.3 158.7,680.9"/><polygon points="168.5,594 178.9,590.7 178.9,683 168.5,686.3"/><polygon points="158.7,588.6 169.2,585.2 178.9,590.7 168.5,594"/></g><g fill="#4acb58"><polygon points="145.6,590.7 155.4,596.2 155.4,690.5 145.6,685"/><polygon points="155.4,596.2 165.9,592.8 165.9,687.2 155.4,690.5"/><polygon points="145.6,590.7 156.1,587.4 165.9,592.8 155.4,596.2"/></g><g fill="#20c797"><polygon points="132.6,596.4 142.3,601.8 142.3,694.7 132.6,689.2"/><polygon points="142.3,601.8 152.8,598.5 152.8,691.4 142.3,694.7"/><polygon points="132.6,596.4 143,593 152.8,598.5 142.3,601.8"/></g><g fill="#14b7d4"><polygon points="119.5,595.8 129.3,601.3 129.3,698.9 119.5,693.4"/><polygon points="129.3,601.3 139.7,597.9 139.7,695.5 129.3,698.9"/><polygon points="119.5,595.8 130,592.5 139.7,597.9 129.3,601.3"/></g><g fill="#16a0ea"><polygon points="106.4,619.8 116.2,625.3 116.2,703.1 106.4,697.6"/><polygon points="116.2,625.3 126.6,621.9 126.6,699.7 116.2,703.1"/><polygon points="106.4,619.8 116.9,616.5 126.6,621.9 116.2,625.3"/></g><g fill="#2679f9"><polygon points="93.4,628.5 103.1,633.9 103.1,707.3 93.4,701.8"/><polygon points="103.1,633.9 113.6,630.6 113.6,703.9 103.1,707.3"/><polygon points="93.4,628.5 103.8,625.1 113.6,630.6 103.1,633.9"/></g><g fill="#4a42ea"><polygon points="80.3,633.8 90.1,639.3 90.1,711.5 80.3,706"/><polygon points="90.1,639.3 100.5,635.9 100.5,708.1 90.1,711.5"/><polygon points="80.3,633.8 90.7,630.5 100.5,635.9 90.1,639.3"/></g><g fill="#3f22a9"><polygon points="67.2,662.3 77,667.7 77,715.7 67.2,710.2"/><polygon points="77,667.7 87.4,664.4 87.4,712.3 77,715.7"/><polygon points="67.2,662.3 77.7,658.9 87.4,664.4 77,667.7"/></g><g fill="#f9fb12"><polygon points="197,576.1 206.8,581.6 206.8,684.8 197,679.3"/><polygon points="206.8,581.6 217.3,578.2 217.3,681.4 206.8,684.8"/><polygon points="197,576.1 207.5,572.7 217.3,578.2 206.8,581.6"/></g><g fill="#fdcc14"><polygon points="184,593.3 193.7,598.8 193.7,689 184,683.5"/><polygon points="193.7,598.8 204.2,595.4 204.2,685.6 193.7,689"/><polygon points="184,593.3 194.4,589.9 204.2,595.4 193.7,598.8"/></g><g fill="#e9bb10"><polygon points="170.9,602.2 180.7,607.7 180.7,693.2 170.9,687.7"/><polygon points="180.7,607.7 191.1,604.3 191.1,689.8 180.7,693.2"/><polygon points="170.9,602.2 181.4,598.9 191.1,604.3 180.7,607.7"/></g><g fill="#4acb58"><polygon points="157.8,610.3 167.6,615.7 167.6,697.3 157.8,691.9"/><polygon points="167.6,615.7 178.1,612.4 178.1,694 167.6,697.3"/><polygon points="157.8,610.3 168.3,606.9 178.1,612.4 167.6,615.7"/></g><g fill="#20c797"><polygon points="144.8,618 154.5,623.5 154.5,701.5 144.8,696.1"/><polygon points="154.5,623.5 165,620.1 165,698.2 154.5,701.5"/><polygon points="144.8,618 155.2,614.6 165,620.1 154.5,623.5"/></g><g fill="#14b7d4"><polygon points="131.7,625.1 141.5,630.6 141.5,705.7 131.7,700.3"/><polygon points="141.5,630.6 151.9,627.2 151.9,702.4 141.5,705.7"/><polygon points="131.7,625.1 142.2,621.8 151.9,627.2 141.5,630.6"/></g><g fill="#16a0ea"><polygon points="118.6,632.6 128.4,638 128.4,709.9 118.6,704.4"/><polygon points="128.4,638 138.8,634.7 138.8,706.6 128.4,709.9"/><polygon points="118.6,632.6 129.1,629.2 138.8,634.7 128.4,638"/></g><g fill="#2679f9"><polygon points="105.6,639.7 115.3,645.2 115.3,714.1 105.6,708.6"/><polygon points="115.3,645.2 125.8,641.8 125.8,710.8 115.3,714.1"/><polygon points="105.6,639.7 116,636.4 125.8,641.8 115.3,645.2"/></g><g fill="#4a42ea"><polygon points="92.5,652.8 102.2,658.3 102.2,718.3 92.5,712.8"/><polygon points="102.2,658.3 112.7,654.9 112.7,714.9 102.2,718.3"/><polygon points="92.5,652.8 102.9,649.4 112.7,654.9 102.2,658.3"/></g><g fill="#3f22a9"><polygon points="79.4,679.8 89.2,685.2 89.2,722.5 79.4,717"/><polygon points="89.2,685.2 99.6,681.9 99.6,719.1 89.2,722.5"/><polygon points="79.4,679.8 89.9,676.4 99.6,681.9 89.2,685.2"/></g><g fill="#f9fb12"><polygon points="209.2,599.5 219,604.9 219,691.6 209.2,686.1"/><polygon points="219,604.9 229.5,601.6 229.5,688.2 219,691.6"/><polygon points="209.2,599.5 219.7,596.1 229.5,601.6 219,604.9"/></g><g fill="#fdcc14"><polygon points="196.2,597.2 205.9,602.6 205.9,695.8 196.2,690.3"/><polygon points="205.9,602.6 216.4,599.3 216.4,692.4 205.9,695.8"/><polygon points="196.2,597.2 206.6,593.8 216.4,599.3 205.9,602.6"/></g><g fill="#e9bb10"><polygon points="183.1,607.6 192.9,613 192.9,700 183.1,694.5"/><polygon points="192.9,613 203.3,609.7 203.3,696.6 192.9,700"/><polygon points="183.1,607.6 193.6,604.2 203.3,609.7 192.9,613"/></g><g fill="#4acb58"><polygon points="170,610.3 179.8,615.7 179.8,704.2 170,698.7"/><polygon points="179.8,615.7 190.3,612.4 190.3,700.8 179.8,704.2"/><polygon points="170,610.3 180.5,606.9 190.3,612.4 179.8,615.7"/></g><g fill="#20c797"><polygon points="157,621.9 166.7,627.3 166.7,708.4 157,702.9"/><polygon points="166.7,627.3 177.2,624 177.2,705 166.7,708.4"/><polygon points="157,621.9 167.4,618.5 177.2,624 166.7,627.3"/></g><g fill="#14b7d4"><polygon points="143.9,632 153.7,637.4 153.7,712.6 143.9,707.1"/><polygon points="153.7,637.4 164.1,634.1 164.1,709.2 153.7,712.6"/><polygon points="143.9,632 154.4,628.6 164.1,634.1 153.7,637.4"/></g><g fill="#16a0ea"><polygon points="130.8,636.2 140.6,641.6 140.6,716.7 130.8,711.3"/><polygon points="140.6,641.6 151,638.3 151,713.4 140.6,716.7"/><polygon points="130.8,636.2 141.3,632.8 151,638.3 140.6,641.6"/></g><g fill="#2679f9"><polygon points="117.8,641.5 127.5,647 127.5,720.9 117.8,715.5"/><polygon points="127.5,647 138,643.6 138,717.6 127.5,720.9"/><polygon points="117.8,641.5 128.2,638.2 138,643.6 127.5,647"/></g><g fill="#4a42ea"><polygon points="104.7,654.3 114.4,659.8 114.4,725.1 104.7,719.7"/><polygon points="114.4,659.8 124.9,656.4 124.9,721.8 114.4,725.1"/><polygon points="104.7,654.3 115.1,650.9 124.9,656.4 114.4,659.8"/></g><g fill="#3f22a9"><polygon points="91.6,653.5 101.4,658.9 101.4,729.3 91.6,723.8"/><polygon points="101.4,658.9 111.8,655.6 111.8,726 101.4,729.3"/><polygon points="91.6,653.5 102.1,650.1 111.8,655.6 101.4,658.9"/></g><g fill="#f9fb12"><polygon points="221.4,604.2 231.2,609.7 231.2,698.4 221.4,693"/><polygon points="231.2,609.7 241.7,606.4 241.7,695.1 231.2,698.4"/><polygon points="221.4,604.2 231.9,600.9 241.7,606.4 231.2,609.7"/></g><g fill="#fdcc14"><polygon points="208.4,602.8 218.1,608.3 218.1,702.6 208.4,697.2"/><polygon points="218.1,608.3 228.6,604.9 228.6,699.3 218.1,702.6"/><polygon points="208.4,602.8 218.8,599.5 228.6,604.9 218.1,608.3"/></g><g fill="#e9bb10"><polygon points="195.3,613.5 205.1,619 205.1,706.8 195.3,701.3"/><polygon points="205.1,619 215.5,615.6 215.5,703.5 205.1,706.8"/><polygon points="195.3,613.5 205.8,610.2 215.5,615.6 205.1,619"/></g><g fill="#4acb58"><polygon points="182.2,615.6 192,621.1 192,711 182.2,705.5"/><polygon points="192,621.1 202.5,617.7 202.5,707.7 192,711"/><polygon points="182.2,615.6 192.7,612.3 202.5,617.7 192,621.1"/></g><g fill="#20c797"><polygon points="169.2,614.8 178.9,620.3 178.9,715.2 169.2,709.7"/><polygon points="178.9,620.3 189.4,616.9 189.4,711.8 178.9,715.2"/><polygon points="169.2,614.8 179.6,611.4 189.4,616.9 178.9,620.3"/></g><g fill="#14b7d4"><polygon points="156.1,637.9 165.9,643.4 165.9,719.4 156.1,713.9"/><polygon points="165.9,643.4 176.3,640 176.3,716 165.9,719.4"/><polygon points="156.1,637.9 166.6,634.6 176.3,640 165.9,643.4"/></g><g fill="#16a0ea"><polygon points="143,622.9 152.8,628.3 152.8,723.6 143,718.1"/><polygon points="152.8,628.3 163.2,625 163.2,720.2 152.8,723.6"/><polygon points="143,622.9 153.5,619.5 163.2,625 152.8,628.3"/></g><g fill="#2679f9"><polygon points="130,628.8 139.7,634.3 139.7,727.8 130,722.3"/><polygon points="139.7,634.3 150.2,631 150.2,724.4 139.7,727.8"/><polygon points="130,628.8 140.4,625.5 150.2,631 139.7,634.3"/></g><g fill="#4a42ea"><polygon points="116.9,659.9 126.7,665.4 126.7,732 116.9,726.5"/><polygon points="126.7,665.4 137.1,662.1 137.1,728.6 126.7,732"/><polygon points="116.9,659.9 127.3,656.6 137.1,662.1 126.7,665.4"/></g><g fill="#3f22a9"><polygon points="103.8,671.2 113.6,676.7 113.6,736.1 103.8,730.7"/><polygon points="113.6,676.7 124,673.3 124,732.8 113.6,736.1"/><polygon points="103.8,671.2 114.3,667.9 124,673.3 113.6,676.7"/></g></g>
<path d="M23.3 567.3L23.3 685.6L120.9 740.2L249 699.2M23.3 685.6l-2.2 -1.2M23.3 656l-2.2 -1.2M23.3 626.5l-2.2 -1.2M23.3 596.9l-2.2 -1.2M23.3 567.3l-2.2 -1.2M35.5 692.4l-2.2 0.7M47.7 699.3l-2.2 0.7M59.9 706.1l-2.2 0.7M72.1 712.9l-2.2 0.7M84.3 719.8l-2.2 0.7M96.5 726.6l-2.2 0.7M108.7 733.4l-2.2 0.7M126.1 738.6l2 1.1M139.2 734.4l2 1.1M152.3 730.2l2 1.1M165.3 726l2 1.1M178.4 721.8l2 1.1M191.5 717.6l2 1.1M204.5 713.4l2 1.1M217.6 709.2l2 1.1M230.7 705l2 1.1M243.8 700.9l2 1.1" class="a"/>
<g class="t"><text transform="translate(18.5 685.8) scale(1 1.15)" text-anchor="end">58</text><text transform="translate(18.5 656.2) scale(1 1.15)" text-anchor="end">59</text><text transform="translate(18.5 626.7) scale(1 1.15)" text-anchor="end">60</text><text transform="translate(18.5 597.1) scale(1 1.15)" text-anchor="end">61</text><text transform="translate(18.5 567.5) scale(1 1.15)" text-anchor="end">62</text><text transform="translate(30.1 702.2) scale(1 1.15)" text-anchor="end">0.001</text><text transform="translate(42.3 709.1) scale(1 1.15)" text-anchor="end">0.01</text><text transform="translate(54.5 715.9) scale(1 1.15)" text-anchor="end">0.1</text><text transform="translate(66.7 722.7) scale(1 1.15)" text-anchor="end">1</text><text transform="translate(78.9 729.5) scale(1 1.15)" text-anchor="end">10</text><text transform="translate(91.1 736.4) scale(1 1.15)" text-anchor="end">100</text><text transform="translate(103.3 743.2) scale(1 1.15)" text-anchor="end">1000</text><text transform="translate(132.4 750) scale(1 1.15)">50</text><text transform="translate(145.4 745.6) scale(1 1.15)">100</text><text transform="translate(158.4 741.3) scale(1 1.15)">150</text><text transform="translate(171.3 736.9) scale(1 1.15)">200</text><text transform="translate(184.3 732.6) scale(1 1.15)">250</text><text transform="translate(197.3 728.3) scale(1 1.15)">300</text><text transform="translate(210.2 723.9) scale(1 1.15)">350</text><text transform="translate(223.2 719.6) scale(1 1.15)">400</text><text transform="translate(236.2 715.2) scale(1 1.15)">450</text><text transform="translate(249.2 710.9) scale(1 1.15)">500</text><text transform="translate(66.7 746.5) scale(1 1.15)" text-anchor="middle">θ</text><text transform="translate(193.8 750) scale(1 1.15)" text-anchor="middle">Demension</text><text transform="translate(7.3 626.4) rotate(-90) scale(1.035 1.15)" text-anchor="middle">Accuracy rate</text></g>
<text class="c" x="92.4" y="773.9" textLength="76.4" lengthAdjust="spacingAndGlyphs"><tspan font-style="italic">θ</tspan> on COIL20</text>
<polygon points="311.3,685.6 408.9,740.2 537,699.2 537,580.9 439.4,526.2 311.3,567.3" fill="#fff"/>
<path d="M311.3 685.6L439.4 644.5L537 699.2M311.3 656L439.4 615L537 669.6M311.3 626.5L439.4 585.4L537 640M311.3 596.9L439.4 555.8L537 610.5M311.3 567.3L439.4 526.2L537 580.9M316.5 565.6L316.5 683.9L414.1 738.6M329.6 561.4L329.6 679.7L427.2 734.4M342.7 557.2L342.7 675.5L440.3 730.2M355.7 553.1L355.7 671.4L453.3 726M368.8 548.9L368.8 667.2L466.4 721.8M381.9 544.7L381.9 663L479.5 717.6M394.9 540.5L394.9 658.8L492.5 713.4M408 536.3L408 654.6L505.6 709.2M421.1 532.1L421.1 650.4L518.7 705M434.2 527.9L434.2 646.2L531.8 700.9M451.6 533.1L451.6 651.4L323.5 692.4M463.8 539.9L463.8 658.2L335.7 699.3M476 546.7L476 665L347.9 706.1M488.2 553.6L488.2 671.9L360.1 712.9M500.4 560.4L500.4 678.7L372.3 719.8M512.6 567.2L512.6 685.5L384.5 726.6M524.8 574L524.8 692.3L396.7 733.4" class="g"/>
<path d="M311.3 567.3L439.4 526.2L537 580.9M439.4 526.2L439.4 644.5" class="g"/>
<g class="b"><g fill="#f9fb12"><polygon points="436.2,548.8 446,554.2 446,657.5 436.2,652"/><polygon points="446,554.2 456.5,550.9 456.5,654.1 446,657.5"/><polygon points="436.2,548.8 446.7,545.4 456.5,550.9 446,554.2"/></g><g fill="#fdcc14"><polygon points="423.2,555.3 432.9,560.8 432.9,661.6 423.2,656.2"/><polygon points="432.9,560.8 443.4,557.4 443.4,658.3 432.9,661.6"/><polygon points="423.2,555.3 433.6,552 443.4,557.4 432.9,560.8"/></g><g fill="#e9bb10"><polygon points="410.1,574 419.9,579.5 419.9,665.8 410.1,660.4"/><polygon points="419.9,579.5 430.3,576.1 430.3,662.5 419.9,665.8"/><polygon points="410.1,574 420.6,570.7 430.3,576.1 419.9,579.5"/></g><g fill="#4acb58"><polygon points="397,575.5 406.8,581 406.8,670 397,664.6"/><polygon points="406.8,581 417.3,577.6 417.3,666.7 406.8,670"/><polygon points="397,575.5 407.5,572.2 417.3,577.6 406.8,581"/></g><g fill="#20c797"><polygon points="384,574.7 393.7,580.2 393.7,674.2 384,668.7"/><polygon points="393.7,580.2 404.2,576.8 404.2,670.9 393.7,674.2"/><polygon points="384,574.7 394.4,571.3 404.2,576.8 393.7,580.2"/></g><g fill="#14b7d4"><polygon points="370.9,597.8 380.7,603.3 380.7,678.4 370.9,672.9"/><polygon points="380.7,603.3 391.1,599.9 391.1,675.1 380.7,678.4"/><polygon points="370.9,597.8 381.4,594.5 391.1,599.9 380.7,603.3"/></g><g fill="#16a0ea"><polygon points="357.8,613.5 367.6,619 367.6,682.6 357.8,677.1"/><polygon points="367.6,619 378,615.7 378,679.2 367.6,682.6"/><polygon points="357.8,613.5 368.3,610.2 378,615.7 367.6,619"/></g><g fill="#2679f9"><polygon points="344.8,621.3 354.5,626.7 354.5,686.8 344.8,681.3"/><polygon points="354.5,626.7 365,623.4 365,683.4 354.5,686.8"/><polygon points="344.8,621.3 355.2,617.9 365,623.4 354.5,626.7"/></g><g fill="#4a42ea"><polygon points="331.7,628.4 341.4,633.9 341.4,691 331.7,685.5"/><polygon points="341.4,633.9 351.9,630.5 351.9,687.6 341.4,691"/><polygon points="331.7,628.4 342.1,625.1 351.9,630.5 341.4,633.9"/></g><g fill="#3f22a9"><polygon points="318.6,645 328.4,650.5 328.4,695.2 318.6,689.7"/><polygon points="328.4,650.5 338.8,647.2 338.8,691.8 328.4,695.2"/><polygon points="318.6,645 329.1,641.7 338.8,647.2 328.4,650.5"/></g><g fill="#f9fb12"><polygon points="448.4,553.5 458.2,559 458.2,664.3 448.4,658.8"/><polygon points="458.2,559 468.7,555.6 468.7,660.9 458.2,664.3"/><polygon points="448.4,553.5 458.9,550.2 468.7,555.6 458.2,559"/></g><g fill="#fdcc14"><polygon points="435.4,573.1 445.1,578.6 445.1,668.5 435.4,663"/><polygon points="445.1,578.6 455.6,575.2 455.6,665.1 445.1,668.5"/><polygon points="435.4,573.1 445.8,569.7 455.6,575.2 445.1,578.6"/></g><g fill="#e9bb10"><polygon points="422.3,574.3 432.1,579.8 432.1,672.7 422.3,667.2"/><polygon points="432.1,579.8 442.5,576.4 442.5,669.3 432.1,672.7"/><polygon points="422.3,574.3 432.8,571 442.5,576.4 432.1,579.8"/></g><g fill="#4acb58"><polygon points="409.2,583.8 419,589.3 419,676.9 409.2,671.4"/><polygon points="419,589.3 429.5,586 429.5,673.5 419,676.9"/><polygon points="409.2,583.8 419.7,580.5 429.5,586 419,589.3"/></g><g fill="#20c797"><polygon points="396.2,583 405.9,588.5 405.9,681 396.2,675.6"/><polygon points="405.9,588.5 416.4,585.1 416.4,677.7 405.9,681"/><polygon points="396.2,583 406.6,579.7 416.4,585.1 405.9,588.5"/></g><g fill="#14b7d4"><polygon points="383.1,594 392.9,599.5 392.9,685.2 383.1,679.8"/><polygon points="392.9,599.5 403.3,596.1 403.3,681.9 392.9,685.2"/><polygon points="383.1,594 393.6,590.6 403.3,596.1 392.9,599.5"/></g><g fill="#16a0ea"><polygon points="370,581.9 379.8,587.4 379.8,689.4 370,684"/><polygon points="379.8,587.4 390.2,584 390.2,686.1 379.8,689.4"/><polygon points="370,581.9 380.5,578.6 390.2,584 379.8,587.4"/></g><g fill="#2679f9"><polygon points="357,622.2 366.7,627.7 366.7,693.6 357,688.1"/><polygon points="366.7,627.7 377.2,624.3 377.2,690.3 366.7,693.6"/><polygon points="357,622.2 367.4,618.8 377.2,624.3 366.7,627.7"/></g><g fill="#4a42ea"><polygon points="343.9,618.1 353.6,623.6 353.6,697.8 343.9,692.3"/><polygon points="353.6,623.6 364.1,620.2 364.1,694.5 353.6,697.8"/><polygon points="343.9,618.1 354.3,614.8 364.1,620.2 353.6,623.6"/></g><g fill="#3f22a9"><polygon points="330.8,622.3 340.6,627.8 340.6,702 330.8,696.5"/><polygon points="340.6,627.8 351,624.4 351,698.6 340.6,702"/><polygon points="330.8,622.3 341.3,618.9 351,624.4 340.6,627.8"/></g><g fill="#f9fb12"><polygon points="460.6,576.6 470.4,582.1 470.4,671.1 460.6,665.6"/><polygon points="470.4,582.1 480.9,578.7 480.9,667.8 470.4,671.1"/><polygon points="460.6,576.6 471.1,573.3 480.9,578.7 470.4,582.1"/></g><g fill="#fdcc14"><polygon points="447.6,579.9 457.3,585.4 457.3,675.3 447.6,669.8"/><polygon points="457.3,585.4 467.8,582 467.8,672 457.3,675.3"/><polygon points="447.6,579.9 458,576.6 467.8,582 457.3,585.4"/></g><g fill="#e9bb10"><polygon points="434.5,584.1 444.3,589.6 444.3,679.5 434.5,674"/><polygon points="444.3,589.6 454.7,586.2 454.7,676.1 444.3,679.5"/><polygon points="434.5,584.1 445,580.8 454.7,586.2 444.3,589.6"/></g><g fill="#4acb58"><polygon points="421.4,583 431.2,588.5 431.2,683.7 421.4,678.2"/><polygon points="431.2,588.5 441.7,585.1 441.7,680.3 431.2,683.7"/><polygon points="421.4,583 431.9,579.6 441.7,585.1 431.2,588.5"/></g><g fill="#20c797"><polygon points="408.4,602.6 418.1,608 418.1,687.9 408.4,682.4"/><polygon points="418.1,608 428.6,604.7 428.6,684.5 418.1,687.9"/><polygon points="408.4,602.6 418.8,599.2 428.6,604.7 418.1,608"/></g><g fill="#14b7d4"><polygon points="395.3,619.2 405.1,624.6 405.1,692.1 395.3,686.6"/><polygon points="405.1,624.6 415.5,621.3 415.5,688.7 405.1,692.1"/><polygon points="395.3,619.2 405.8,615.8 415.5,621.3 405.1,624.6"/></g><g fill="#16a0ea"><polygon points="382.2,618.9 392,624.4 392,696.3 382.2,690.8"/><polygon points="392,624.4 402.4,621 402.4,692.9 392,696.3"/><polygon points="382.2,618.9 392.7,615.6 402.4,621 392,624.4"/></g><g fill="#2679f9"><polygon points="369.2,623.1 378.9,628.6 378.9,700.4 369.2,695"/><polygon points="378.9,628.6 389.4,625.2 389.4,697.1 378.9,700.4"/><polygon points="369.2,623.1 379.6,619.8 389.4,625.2 378.9,628.6"/></g><g fill="#4a42ea"><polygon points="356.1,633.2 365.9,638.7 365.9,704.6 356.1,699.2"/><polygon points="365.9,638.7 376.3,635.3 376.3,701.3 365.9,704.6"/><polygon points="356.1,633.2 366.5,629.9 376.3,635.3 365.9,638.7"/></g><g fill="#3f22a9"><polygon points="343,632.7 352.8,638.1 352.8,708.8 343,703.4"/><polygon points="352.8,638.1 363.2,634.8 363.2,705.5 352.8,708.8"/><polygon points="343,632.7 353.5,629.3 363.2,634.8 352.8,638.1"/></g><g fill="#f9fb12"><polygon points="472.9,585.5 482.6,591 482.6,677.9 472.9,672.5"/><polygon points="482.6,591 493.1,587.6 493.1,674.6 482.6,677.9"/><polygon points="472.9,585.5 483.3,582.2 493.1,587.6 482.6,591"/></g><g fill="#fdcc14"><polygon points="459.8,583.2 469.5,588.7 469.5,682.1 459.8,676.7"/><polygon points="469.5,588.7 480,585.3 480,678.8 469.5,682.1"/><polygon points="459.8,583.2 470.2,579.9 480,585.3 469.5,588.7"/></g><g fill="#e9bb10"><polygon points="446.7,591.5 456.5,597 456.5,686.3 446.7,680.9"/><polygon points="456.5,597 466.9,593.7 466.9,683 456.5,686.3"/><polygon points="446.7,591.5 457.2,588.2 466.9,593.7 456.5,597"/></g><g fill="#4acb58"><polygon points="433.6,570.3 443.4,575.8 443.4,690.5 433.6,685"/><polygon points="443.4,575.8 453.9,572.4 453.9,687.2 443.4,690.5"/><polygon points="433.6,570.3 444.1,566.9 453.9,572.4 443.4,575.8"/></g><g fill="#20c797"><polygon points="420.6,605.2 430.3,610.7 430.3,694.7 420.6,689.2"/><polygon points="430.3,610.7 440.8,607.4 440.8,691.4 430.3,694.7"/><polygon points="420.6,605.2 431,601.9 440.8,607.4 430.3,610.7"/></g><g fill="#14b7d4"><polygon points="407.5,610.9 417.3,616.4 417.3,698.9 407.5,693.4"/><polygon points="417.3,616.4 427.7,613 427.7,695.5 417.3,698.9"/><polygon points="407.5,610.9 418,607.6 427.7,613 417.3,616.4"/></g><g fill="#16a0ea"><polygon points="394.4,618.7 404.2,624.1 404.2,703.1 394.4,697.6"/><polygon points="404.2,624.1 414.6,620.8 414.6,699.7 404.2,703.1"/><polygon points="394.4,618.7 404.9,615.3 414.6,620.8 404.2,624.1"/></g><g fill="#2679f9"><polygon points="381.4,628.8 391.1,634.2 391.1,707.3 381.4,701.8"/><polygon points="391.1,634.2 401.6,630.9 401.6,703.9 391.1,707.3"/><polygon points="381.4,628.8 391.8,625.4 401.6,630.9 391.1,634.2"/></g><g fill="#4a42ea"><polygon points="368.3,630.9 378.1,636.3 378.1,711.5 368.3,706"/><polygon points="378.1,636.3 388.5,633 388.5,708.1 378.1,711.5"/><polygon points="368.3,630.9 378.7,627.5 388.5,633 378.1,636.3"/></g><g fill="#3f22a9"><polygon points="355.2,642.8 365,648.2 365,715.7 355.2,710.2"/><polygon points="365,648.2 375.4,644.9 375.4,712.3 365,715.7"/><polygon points="355.2,642.8 365.7,639.4 375.4,644.9 365,648.2"/></g><g fill="#f9fb12"><polygon points="485.1,592.4 494.8,597.8 494.8,684.8 485.1,679.3"/><polygon points="494.8,597.8 505.3,594.5 505.3,681.4 494.8,684.8"/><polygon points="485.1,592.4 495.5,589 505.3,594.5 494.8,597.8"/></g><g fill="#fdcc14"><polygon points="472,593.9 481.7,599.3 481.7,689 472,683.5"/><polygon points="481.7,599.3 492.2,596 492.2,685.6 481.7,689"/><polygon points="472,593.9 482.4,590.5 492.2,596 481.7,599.3"/></g><g fill="#e9bb10"><polygon points="458.9,600.7 468.7,606.2 468.7,693.2 458.9,687.7"/><polygon points="468.7,606.2 479.1,602.8 479.1,689.8 468.7,693.2"/><polygon points="458.9,600.7 469.4,597.4 479.1,602.8 468.7,606.2"/></g><g fill="#4acb58"><polygon points="445.8,605.8 455.6,611.3 455.6,697.3 445.8,691.9"/><polygon points="455.6,611.3 466.1,607.9 466.1,694 455.6,697.3"/><polygon points="445.8,605.8 456.3,602.5 466.1,607.9 455.6,611.3"/></g><g fill="#20c797"><polygon points="432.8,609.7 442.5,615.2 442.5,701.5 432.8,696.1"/><polygon points="442.5,615.2 453,611.8 453,698.2 442.5,701.5"/><polygon points="432.8,609.7 443.2,606.4 453,611.8 442.5,615.2"/></g><g fill="#14b7d4"><polygon points="419.7,625.1 429.5,630.6 429.5,705.7 419.7,700.3"/><polygon points="429.5,630.6 439.9,627.2 439.9,702.4 429.5,705.7"/><polygon points="419.7,625.1 430.2,621.8 439.9,627.2 429.5,630.6"/></g><g fill="#16a0ea"><polygon points="406.6,632.6 416.4,638 416.4,709.9 406.6,704.4"/><polygon points="416.4,638 426.8,634.7 426.8,706.6 416.4,709.9"/><polygon points="406.6,632.6 417.1,629.2 426.8,634.7 416.4,638"/></g><g fill="#2679f9"><polygon points="393.6,639.7 403.3,645.2 403.3,714.1 393.6,708.6"/><polygon points="403.3,645.2 413.8,641.8 413.8,710.8 403.3,714.1"/><polygon points="393.6,639.7 404,636.4 413.8,641.8 403.3,645.2"/></g><g fill="#4a42ea"><polygon points="380.5,652.8 390.2,658.3 390.2,718.3 380.5,712.8"/><polygon points="390.2,658.3 400.7,654.9 400.7,714.9 390.2,718.3"/><polygon points="380.5,652.8 390.9,649.4 400.7,654.9 390.2,658.3"/></g><g fill="#3f22a9"><polygon points="367.4,661.1 377.2,666.6 377.2,722.5 367.4,717"/><polygon points="377.2,666.6 387.6,663.2 387.6,719.1 377.2,722.5"/><polygon points="367.4,661.1 377.9,657.8 387.6,663.2 377.2,666.6"/></g><g fill="#f9fb12"><polygon points="497.2,579.1 507,584.5 507,691.6 497.2,686.1"/><polygon points="507,584.5 517.5,581.2 517.5,688.2 507,691.6"/><polygon points="497.2,579.1 507.7,575.7 517.5,581.2 507,584.5"/></g><g fill="#fdcc14"><polygon points="484.2,601.9 493.9,607.4 493.9,695.8 484.2,690.3"/><polygon points="493.9,607.4 504.4,604 504.4,692.4 493.9,695.8"/><polygon points="484.2,601.9 494.6,598.5 504.4,604 493.9,607.4"/></g><g fill="#e9bb10"><polygon points="471.1,604.6 480.9,610.1 480.9,700 471.1,694.5"/><polygon points="480.9,610.1 491.3,606.7 491.3,696.6 480.9,700"/><polygon points="471.1,604.6 481.6,601.3 491.3,606.7 480.9,610.1"/></g><g fill="#4acb58"><polygon points="458,611.8 467.8,617.2 467.8,704.2 458,698.7"/><polygon points="467.8,617.2 478.3,613.9 478.3,700.8 467.8,704.2"/><polygon points="458,611.8 468.5,608.4 478.3,613.9 467.8,617.2"/></g><g fill="#20c797"><polygon points="445,621.9 454.7,627.3 454.7,708.4 445,702.9"/><polygon points="454.7,627.3 465.2,624 465.2,705 454.7,708.4"/><polygon points="445,621.9 455.4,618.5 465.2,624 454.7,627.3"/></g><g fill="#14b7d4"><polygon points="431.9,632 441.7,637.4 441.7,712.6 431.9,707.1"/><polygon points="441.7,637.4 452.1,634.1 452.1,709.2 441.7,712.6"/><polygon points="431.9,632 442.4,628.6 452.1,634.1 441.7,637.4"/></g><g fill="#16a0ea"><polygon points="418.8,636.2 428.6,641.6 428.6,716.7 418.8,711.3"/><polygon points="428.6,641.6 439,638.3 439,713.4 428.6,716.7"/><polygon points="418.8,636.2 429.3,632.8 439,638.3 428.6,641.6"/></g><g fill="#2679f9"><polygon points="405.8,641.5 415.5,647 415.5,720.9 405.8,715.5"/><polygon points="415.5,647 426,643.6 426,717.6 415.5,720.9"/><polygon points="405.8,641.5 416.2,638.2 426,643.6 415.5,647"/></g><g fill="#4a42ea"><polygon points="392.7,646.6 402.4,652.1 402.4,725.1 392.7,719.7"/><polygon points="402.4,652.1 412.9,648.7 412.9,721.8 402.4,725.1"/><polygon points="392.7,646.6 403.1,643.3 412.9,648.7 402.4,652.1"/></g><g fill="#3f22a9"><polygon points="379.6,683.6 389.4,689.1 389.4,729.3 379.6,723.8"/><polygon points="389.4,689.1 399.8,685.7 399.8,726 389.4,729.3"/><polygon points="379.6,683.6 390.1,680.3 399.8,685.7 389.4,689.1"/></g><g fill="#f9fb12"><polygon points="509.4,603.4 519.2,608.8 519.2,698.4 509.4,693"/><polygon points="519.2,608.8 529.7,605.5 529.7,695.1 519.2,698.4"/><polygon points="509.4,603.4 519.9,600 529.7,605.5 519.2,608.8"/></g><g fill="#fdcc14"><polygon points="496.4,603.4 506.1,608.9 506.1,702.6 496.4,697.2"/><polygon points="506.1,608.9 516.6,605.5 516.6,699.3 506.1,702.6"/><polygon points="496.4,603.4 506.8,600.1 516.6,605.5 506.1,608.9"/></g><g fill="#e9bb10"><polygon points="483.3,613.5 493.1,619 493.1,706.8 483.3,701.3"/><polygon points="493.1,619 503.5,615.6 503.5,703.5 493.1,706.8"/><polygon points="483.3,613.5 493.8,610.2 503.5,615.6 493.1,619"/></g><g fill="#4acb58"><polygon points="470.2,616.2 480,621.7 480,711 470.2,705.5"/><polygon points="480,621.7 490.5,618.3 490.5,707.7 480,711"/><polygon points="470.2,616.2 480.7,612.9 490.5,618.3 480,621.7"/></g><g fill="#20c797"><polygon points="457.2,615.1 466.9,620.6 466.9,715.2 457.2,709.7"/><polygon points="466.9,620.6 477.4,617.2 477.4,711.8 466.9,715.2"/><polygon points="457.2,615.1 467.6,611.7 477.4,617.2 466.9,620.6"/></g><g fill="#14b7d4"><polygon points="444.1,637.6 453.9,643.1 453.9,719.4 444.1,713.9"/><polygon points="453.9,643.1 464.3,639.7 464.3,716 453.9,719.4"/><polygon points="444.1,637.6 454.6,634.3 464.3,639.7 453.9,643.1"/></g><g fill="#16a0ea"><polygon points="431,623.2 440.8,628.6 440.8,723.6 431,718.1"/><polygon points="440.8,628.6 451.2,625.3 451.2,720.2 440.8,723.6"/><polygon points="431,623.2 441.5,619.8 451.2,625.3 440.8,628.6"/></g><g fill="#2679f9"><polygon points="418,629.4 427.7,634.9 427.7,727.8 418,722.3"/><polygon points="427.7,634.9 438.2,631.5 438.2,724.4 427.7,727.8"/><polygon points="418,629.4 428.4,626.1 438.2,631.5 427.7,634.9"/></g><g fill="#4a42ea"><polygon points="404.9,658.8 414.7,664.2 414.7,732 404.9,726.5"/><polygon points="414.7,664.2 425.1,660.9 425.1,728.6 414.7,732"/><polygon points="404.9,658.8 415.3,655.4 425.1,660.9 414.7,664.2"/></g><g fill="#3f22a9"><polygon points="391.8,671.2 401.6,676.7 401.6,736.1 391.8,730.7"/><polygon points="401.6,676.7 412,673.3 412,732.8 401.6,736.1"/><polygon points="391.8,671.2 402.3,667.9 412,673.3 401.6,676.7"/></g></g>
<path d="M311.3 567.3L311.3 685.6L408.9 740.2L537 699.2M311.3 685.6l-2.2 -1.2M311.3 656l-2.2 -1.2M311.3 626.5l-2.2 -1.2M311.3 596.9l-2.2 -1.2M311.3 567.3l-2.2 -1.2M323.5 692.4l-2.2 0.7M335.7 699.3l-2.2 0.7M347.9 706.1l-2.2 0.7M360.1 712.9l-2.2 0.7M372.3 719.8l-2.2 0.7M384.5 726.6l-2.2 0.7M396.7 733.4l-2.2 0.7M414.1 738.6l2 1.1M427.2 734.4l2 1.1M440.3 730.2l2 1.1M453.3 726l2 1.1M466.4 721.8l2 1.1M479.5 717.6l2 1.1M492.5 713.4l2 1.1M505.6 709.2l2 1.1M518.7 705l2 1.1M531.8 700.9l2 1.1" class="a"/>
<g class="t"><text transform="translate(306.5 685.8) scale(1 1.15)" text-anchor="end">58</text><text transform="translate(306.5 656.2) scale(1 1.15)" text-anchor="end">59</text><text transform="translate(306.5 626.7) scale(1 1.15)" text-anchor="end">60</text><text transform="translate(306.5 597.1) scale(1 1.15)" text-anchor="end">61</text><text transform="translate(306.5 567.5) scale(1 1.15)" text-anchor="end">62</text><text transform="translate(318.1 702.2) scale(1 1.15)" text-anchor="end">0.001</text><text transform="translate(330.3 709.1) scale(1 1.15)" text-anchor="end">0.01</text><text transform="translate(342.5 715.9) scale(1 1.15)" text-anchor="end">0.1</text><text transform="translate(354.7 722.7) scale(1 1.15)" text-anchor="end">1</text><text transform="translate(366.9 729.5) scale(1 1.15)" text-anchor="end">10</text><text transform="translate(379.1 736.4) scale(1 1.15)" text-anchor="end">100</text><text transform="translate(391.3 743.2) scale(1 1.15)" text-anchor="end">1000</text><text transform="translate(420.4 750) scale(1 1.15)">50</text><text transform="translate(433.4 745.6) scale(1 1.15)">100</text><text transform="translate(446.4 741.3) scale(1 1.15)">150</text><text transform="translate(459.3 736.9) scale(1 1.15)">200</text><text transform="translate(472.3 732.6) scale(1 1.15)">250</text><text transform="translate(485.3 728.3) scale(1 1.15)">300</text><text transform="translate(498.2 723.9) scale(1 1.15)">350</text><text transform="translate(511.2 719.6) scale(1 1.15)">400</text><text transform="translate(524.2 715.2) scale(1 1.15)">450</text><text transform="translate(537.2 710.9) scale(1 1.15)">500</text><text transform="translate(354.7 746.5) scale(1 1.15)" text-anchor="middle">λ</text><text transform="translate(481.8 750) scale(1 1.15)" text-anchor="middle">Demension</text><text transform="translate(295.3 626.4) rotate(-90) scale(1.035 1.15)" text-anchor="middle">Accuracy rate</text></g>
<text class="c" x="380.4" y="773.9" textLength="76.4" lengthAdjust="spacingAndGlyphs"><tspan font-style="italic">λ</tspan> on COIL20</text>
</svg>
</body></html>
